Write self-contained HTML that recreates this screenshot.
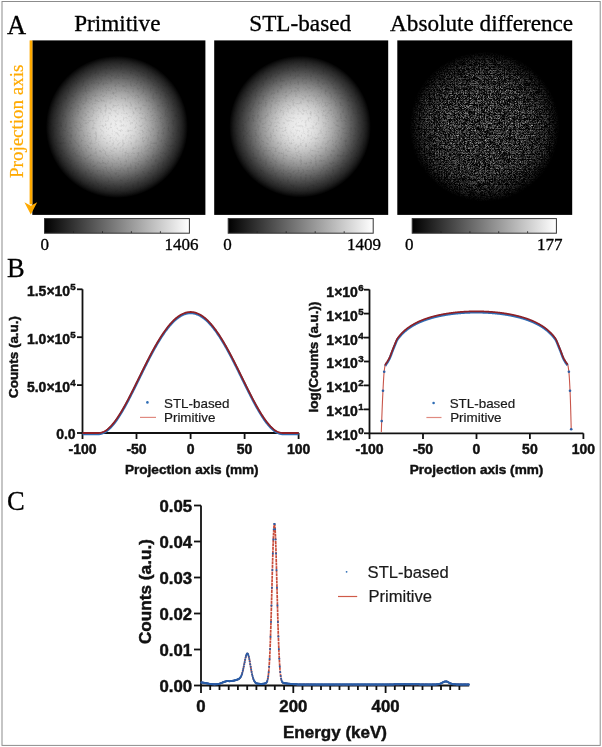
<!DOCTYPE html>
<html><head><meta charset="utf-8"><title>Figure</title>
<style>html,body{margin:0;padding:0;background:#fff;width:602px;height:747px;overflow:hidden}svg{display:block}</style>
</head><body>
<svg width="602" height="747" viewBox="0 0 602 747">
<defs><radialGradient id="sph" cx="0.5" cy="0.5" r="0.5"><stop offset="0.000" stop-color="rgb(238,238,238)"/><stop offset="0.056" stop-color="rgb(236,236,236)"/><stop offset="0.155" stop-color="rgb(230,230,230)"/><stop offset="0.254" stop-color="rgb(216,216,216)"/><stop offset="0.352" stop-color="rgb(196,196,196)"/><stop offset="0.451" stop-color="rgb(172,172,172)"/><stop offset="0.549" stop-color="rgb(146,146,146)"/><stop offset="0.648" stop-color="rgb(116,116,116)"/><stop offset="0.746" stop-color="rgb(86,86,86)"/><stop offset="0.845" stop-color="rgb(56,56,56)"/><stop offset="0.901" stop-color="rgb(40,40,40)"/><stop offset="0.944" stop-color="rgb(25,25,25)"/><stop offset="0.979" stop-color="rgb(10,10,10)"/><stop offset="1.000" stop-color="rgb(0,0,0)"/></radialGradient><radialGradient id="dmask" cx="0.5" cy="0.5" r="0.5"><stop offset="0.000" stop-color="#fff" stop-opacity="1.000"/><stop offset="0.400" stop-color="#fff" stop-opacity="0.950"/><stop offset="0.600" stop-color="#fff" stop-opacity="0.850"/><stop offset="0.750" stop-color="#fff" stop-opacity="0.680"/><stop offset="0.850" stop-color="#fff" stop-opacity="0.480"/><stop offset="0.920" stop-color="#fff" stop-opacity="0.280"/><stop offset="0.970" stop-color="#fff" stop-opacity="0.100"/><stop offset="1.000" stop-color="#fff" stop-opacity="0.000"/></radialGradient><linearGradient id="cbar" x1="0" x2="1" y1="0" y2="0"><stop offset="0" stop-color="#000"/><stop offset="1" stop-color="#fff"/></linearGradient><filter id="noise1" x="0" y="0" width="100%" height="100%" color-interpolation-filters="sRGB"><feTurbulence type="fractalNoise" baseFrequency="0.4" numOctaves="2" seed="3" result="t"/><feColorMatrix in="t" type="matrix" values="0.32 0 0 0 0.84  0.32 0 0 0 0.84  0.32 0 0 0 0.84  0 0 0 0 1" result="g"/><feComposite in="SourceGraphic" in2="g" operator="arithmetic" k1="1" k2="0" k3="0" k4="0"/></filter><filter id="noise2" x="0" y="0" width="100%" height="100%" color-interpolation-filters="sRGB"><feTurbulence type="turbulence" baseFrequency="0.6" numOctaves="2" seed="11" result="t"/><feColorMatrix in="t" type="matrix" values="1.05 0 0 0 -0.09  1.05 0 0 0 -0.09  1.05 0 0 0 -0.09  0 0 0 0 1" result="g0"/><feGaussianBlur in="g0" stdDeviation="0.55" result="g"/><feComposite in="g" in2="SourceGraphic" operator="in"/></filter></defs>
<rect x="0" y="0" width="602" height="747" fill="#fff"/>
<rect x="2" y="1.5" width="598.2" height="743.9" fill="none" stroke="#8c8c8c" stroke-width="1"/>
<text x="7" y="33.6" font-family='"Liberation Serif", "Times New Roman", serif' fill="#000" stroke="#000" stroke-width="0.3" font-size="26.5">A</text>
<g font-family='"Liberation Serif", "Times New Roman", serif' fill="#000" stroke="#000" stroke-width="0.3" font-size="23.2" text-anchor="middle"><text x="117.3" y="30.8">Primitive</text><text x="300.2" y="30.8">STL-based</text><text x="481.6" y="30.8">Absolute difference</text></g>
<rect x="32.3" y="40.4" width="173.1" height="174.5" fill="#000"/>
<circle cx="116.9" cy="126.9" r="71.0" fill="url(#sph)" filter="url(#noise1)"/>
<rect x="214.2" y="40.4" width="174.0" height="174.5" fill="#000"/>
<circle cx="300.1" cy="126.6" r="70.8" fill="url(#sph)" filter="url(#noise1)"/>
<rect x="397.3" y="40.4" width="174.9" height="174.5" fill="#000"/>
<circle cx="484.4" cy="126.7" r="75" fill="url(#dmask)" filter="url(#noise2)"/>
<rect x="29.6" y="40.4" width="2.8" height="164" fill="#ffaa00"/>
<path d="M30.8,214.6 L24.4,202.3 L30.8,205.8 L37.2,202.3 Z" fill="#ffaa00"/>
<text transform="translate(23.2,121.3) rotate(-90)" text-anchor="middle" font-family='"Liberation Serif", "Times New Roman", serif' font-size="19" fill="#ffaa00" stroke="#ffaa00" stroke-width="0.2">Projection axis</text>
<rect x="44.5" y="218.6" width="144.9" height="14.6" fill="url(#cbar)" stroke="#333" stroke-width="1"/>
<line x1="73.5" y1="233" x2="73.5" y2="231.2" stroke="#222" stroke-width="0.8"/>
<line x1="102.5" y1="233" x2="102.5" y2="231.2" stroke="#222" stroke-width="0.8"/>
<line x1="131.4" y1="233" x2="131.4" y2="231.2" stroke="#222" stroke-width="0.8"/>
<line x1="160.4" y1="233" x2="160.4" y2="231.2" stroke="#222" stroke-width="0.8"/>
<text x="40.5" y="250" font-family='"Liberation Serif", "Times New Roman", serif' fill="#000" stroke="#000" stroke-width="0.3" font-size="17">0</text>
<text x="198.6" y="250" text-anchor="end" font-family='"Liberation Serif", "Times New Roman", serif' fill="#000" stroke="#000" stroke-width="0.3" font-size="17">1406</text>
<rect x="228.2" y="218.6" width="145.0" height="14.6" fill="url(#cbar)" stroke="#333" stroke-width="1"/>
<line x1="257.2" y1="233" x2="257.2" y2="231.2" stroke="#222" stroke-width="0.8"/>
<line x1="286.2" y1="233" x2="286.2" y2="231.2" stroke="#222" stroke-width="0.8"/>
<line x1="315.2" y1="233" x2="315.2" y2="231.2" stroke="#222" stroke-width="0.8"/>
<line x1="344.2" y1="233" x2="344.2" y2="231.2" stroke="#222" stroke-width="0.8"/>
<text x="223.3" y="250" font-family='"Liberation Serif", "Times New Roman", serif' fill="#000" stroke="#000" stroke-width="0.3" font-size="17">0</text>
<text x="380.9" y="250" text-anchor="end" font-family='"Liberation Serif", "Times New Roman", serif' fill="#000" stroke="#000" stroke-width="0.3" font-size="17">1409</text>
<rect x="412.2" y="218.6" width="144.2" height="14.6" fill="url(#cbar)" stroke="#333" stroke-width="1"/>
<line x1="441.0" y1="233" x2="441.0" y2="231.2" stroke="#222" stroke-width="0.8"/>
<line x1="469.9" y1="233" x2="469.9" y2="231.2" stroke="#222" stroke-width="0.8"/>
<line x1="498.7" y1="233" x2="498.7" y2="231.2" stroke="#222" stroke-width="0.8"/>
<line x1="527.6" y1="233" x2="527.6" y2="231.2" stroke="#222" stroke-width="0.8"/>
<text x="405.0" y="250" font-family='"Liberation Serif", "Times New Roman", serif' fill="#000" stroke="#000" stroke-width="0.3" font-size="17">0</text>
<text x="562.4" y="250" text-anchor="end" font-family='"Liberation Serif", "Times New Roman", serif' fill="#000" stroke="#000" stroke-width="0.3" font-size="17">177</text>
<text x="7" y="277.2" font-family='"Liberation Serif", "Times New Roman", serif' fill="#000" stroke="#000" stroke-width="0.3" font-size="26.5">B</text>
<path d="M82.5,289.3 V433 H298.6" stroke="#111" stroke-width="1.8" fill="none"/>
<line x1="77" y1="433.0" x2="82.5" y2="433.0" stroke="#111" stroke-width="1.8" fill="none"/>
<line x1="77" y1="385.1" x2="82.5" y2="385.1" stroke="#111" stroke-width="1.8" fill="none"/>
<line x1="77" y1="337.2" x2="82.5" y2="337.2" stroke="#111" stroke-width="1.8" fill="none"/>
<line x1="77" y1="289.3" x2="82.5" y2="289.3" stroke="#111" stroke-width="1.8" fill="none"/>
<line x1="82.5" y1="433" x2="82.5" y2="439" stroke="#111" stroke-width="1.8" fill="none"/>
<line x1="136.5" y1="433" x2="136.5" y2="439" stroke="#111" stroke-width="1.8" fill="none"/>
<line x1="190.6" y1="433" x2="190.6" y2="439" stroke="#111" stroke-width="1.8" fill="none"/>
<line x1="244.6" y1="433" x2="244.6" y2="439" stroke="#111" stroke-width="1.8" fill="none"/>
<line x1="298.6" y1="433" x2="298.6" y2="439" stroke="#111" stroke-width="1.8" fill="none"/>
<text x="75.6" y="439.4" text-anchor="end" font-family='"Liberation Sans", Arial, sans-serif' font-weight="bold" fill="#111" stroke="#111" stroke-width="0.45" font-size="14">0.0</text>
<text x="75.6" y="391.5" text-anchor="end" font-family='"Liberation Sans", Arial, sans-serif' font-weight="bold" fill="#111" stroke="#111" stroke-width="0.45" font-size="14">5.0×10<tspan dy="-6" font-size="9.8">4</tspan></text>
<text x="75.6" y="343.6" text-anchor="end" font-family='"Liberation Sans", Arial, sans-serif' font-weight="bold" fill="#111" stroke="#111" stroke-width="0.45" font-size="14">1.0×10<tspan dy="-6" font-size="9.8">5</tspan></text>
<text x="75.6" y="295.7" text-anchor="end" font-family='"Liberation Sans", Arial, sans-serif' font-weight="bold" fill="#111" stroke="#111" stroke-width="0.45" font-size="14">1.5×10<tspan dy="-6" font-size="9.8">5</tspan></text>
<text x="82.5" y="453.6" text-anchor="middle" font-family='"Liberation Sans", Arial, sans-serif' font-weight="bold" fill="#111" stroke="#111" stroke-width="0.45" font-size="14">-100</text>
<text x="136.5" y="453.6" text-anchor="middle" font-family='"Liberation Sans", Arial, sans-serif' font-weight="bold" fill="#111" stroke="#111" stroke-width="0.45" font-size="14">-50</text>
<text x="190.6" y="453.6" text-anchor="middle" font-family='"Liberation Sans", Arial, sans-serif' font-weight="bold" fill="#111" stroke="#111" stroke-width="0.45" font-size="14">0</text>
<text x="244.6" y="453.6" text-anchor="middle" font-family='"Liberation Sans", Arial, sans-serif' font-weight="bold" fill="#111" stroke="#111" stroke-width="0.45" font-size="14">50</text>
<text x="298.6" y="453.6" text-anchor="middle" font-family='"Liberation Sans", Arial, sans-serif' font-weight="bold" fill="#111" stroke="#111" stroke-width="0.45" font-size="14">100</text>
<text x="191.8" y="474" text-anchor="middle" font-family='"Liberation Sans", Arial, sans-serif' font-weight="bold" fill="#111" stroke="#111" stroke-width="0.45" font-size="13.6">Projection axis (mm)</text>
<text transform="translate(18.3,357) rotate(-90)" text-anchor="middle" font-family='"Liberation Sans", Arial, sans-serif' font-weight="bold" fill="#111" stroke="#111" stroke-width="0.45" font-size="13.4">Counts (a.u.)</text>
<path d="M82.57,434.00 L83.11,434.00 L83.65,434.00 L84.19,434.00 L84.73,434.00 L85.27,434.00 L85.81,434.00 L86.35,434.00 L86.89,434.00 L87.43,434.00 L87.97,434.00 L88.51,434.00 L89.05,434.00 L89.59,434.00 L90.13,434.00 L90.67,434.00 L91.21,434.00 L91.75,434.00 L92.29,434.00 L92.83,434.00 L93.37,434.00 L93.91,434.00 L94.45,434.00 L94.99,434.00 L95.53,434.00 L96.07,434.00 L96.61,434.00 L97.15,434.00 L97.69,434.00 L98.23,434.00 L98.77,433.99 L99.31,433.96 L99.85,433.90 L100.39,433.81 L100.94,433.70 L101.48,433.56 L102.02,433.40 L102.56,433.20 L103.10,432.99 L103.64,432.75 L104.18,432.48 L104.72,432.18 L105.26,431.86 L105.80,431.52 L106.34,431.15 L106.88,430.76 L107.42,430.34 L107.96,429.90 L108.50,429.44 L109.04,428.95 L109.58,428.45 L110.12,427.92 L110.66,427.37 L111.20,426.79 L111.74,426.20 L112.28,425.59 L112.82,424.95 L113.36,424.30 L113.90,423.63 L114.44,422.94 L114.98,422.23 L115.52,421.50 L116.06,420.76 L116.60,420.00 L117.14,419.22 L117.68,418.42 L118.22,417.61 L118.76,416.79 L119.30,415.95 L119.84,415.10 L120.38,414.23 L120.92,413.35 L121.46,412.45 L122.00,411.55 L122.54,410.63 L123.08,409.69 L123.62,408.75 L124.16,407.80 L124.70,406.83 L125.24,405.86 L125.78,404.87 L126.32,403.88 L126.86,402.88 L127.40,401.87 L127.94,400.85 L128.48,399.82 L129.02,398.79 L129.56,397.74 L130.10,396.70 L130.64,395.64 L131.18,394.58 L131.72,393.52 L132.26,392.45 L132.80,391.37 L133.34,390.30 L133.88,389.21 L134.42,388.13 L134.96,387.04 L135.50,385.95 L136.04,384.85 L136.58,383.76 L137.13,382.66 L137.67,381.56 L138.21,380.46 L138.75,379.36 L139.29,378.26 L139.83,377.16 L140.37,376.06 L140.91,374.96 L141.45,373.87 L141.99,372.77 L142.53,371.68 L143.07,370.58 L143.61,369.50 L144.15,368.41 L144.69,367.33 L145.23,366.25 L145.77,365.17 L146.31,364.10 L146.85,363.03 L147.39,361.97 L147.93,360.91 L148.47,359.86 L149.01,358.82 L149.55,357.78 L150.09,356.74 L150.63,355.72 L151.17,354.70 L151.71,353.68 L152.25,352.68 L152.79,351.68 L153.33,350.69 L153.87,349.71 L154.41,348.73 L154.95,347.77 L155.49,346.81 L156.03,345.86 L156.57,344.93 L157.11,344.00 L157.65,343.08 L158.19,342.17 L158.73,341.28 L159.27,340.39 L159.81,339.51 L160.35,338.65 L160.89,337.80 L161.43,336.95 L161.97,336.12 L162.51,335.31 L163.05,334.50 L163.59,333.71 L164.13,332.92 L164.67,332.16 L165.21,331.40 L165.75,330.66 L166.29,329.93 L166.83,329.21 L167.37,328.51 L167.91,327.82 L168.45,327.15 L168.99,326.49 L169.53,325.84 L170.07,325.21 L170.61,324.59 L171.15,323.99 L171.69,323.40 L172.23,322.83 L172.78,322.27 L173.32,321.73 L173.86,321.20 L174.40,320.69 L174.94,320.19 L175.48,319.71 L176.02,319.25 L176.56,318.80 L177.10,318.37 L177.64,317.95 L178.18,317.55 L178.72,317.17 L179.26,316.80 L179.80,316.45 L180.34,316.12 L180.88,315.80 L181.42,315.50 L181.96,315.21 L182.50,314.95 L183.04,314.70 L183.58,314.46 L184.12,314.25 L184.66,314.05 L185.20,313.87 L185.74,313.70 L186.28,313.56 L186.82,313.43 L187.36,313.31 L187.90,313.22 L188.44,313.14 L188.98,313.08 L189.52,313.03 L190.06,313.01 L190.60,313.00 L191.14,313.01 L191.68,313.03 L192.22,313.08 L192.76,313.14 L193.30,313.22 L193.84,313.31 L194.38,313.43 L194.92,313.56 L195.46,313.70 L196.00,313.87 L196.54,314.05 L197.08,314.25 L197.62,314.46 L198.16,314.70 L198.70,314.95 L199.24,315.21 L199.78,315.50 L200.32,315.80 L200.86,316.12 L201.40,316.45 L201.94,316.80 L202.48,317.17 L203.02,317.55 L203.56,317.95 L204.10,318.37 L204.64,318.80 L205.18,319.25 L205.72,319.71 L206.26,320.19 L206.80,320.69 L207.34,321.20 L207.88,321.73 L208.42,322.27 L208.97,322.83 L209.51,323.40 L210.05,323.99 L210.59,324.59 L211.13,325.21 L211.67,325.84 L212.21,326.49 L212.75,327.15 L213.29,327.82 L213.83,328.51 L214.37,329.21 L214.91,329.93 L215.45,330.66 L215.99,331.40 L216.53,332.16 L217.07,332.92 L217.61,333.71 L218.15,334.50 L218.69,335.31 L219.23,336.12 L219.77,336.95 L220.31,337.80 L220.85,338.65 L221.39,339.51 L221.93,340.39 L222.47,341.28 L223.01,342.17 L223.55,343.08 L224.09,344.00 L224.63,344.93 L225.17,345.86 L225.71,346.81 L226.25,347.77 L226.79,348.73 L227.33,349.71 L227.87,350.69 L228.41,351.68 L228.95,352.68 L229.49,353.68 L230.03,354.70 L230.57,355.72 L231.11,356.74 L231.65,357.78 L232.19,358.82 L232.73,359.86 L233.27,360.91 L233.81,361.97 L234.35,363.03 L234.89,364.10 L235.43,365.17 L235.97,366.25 L236.51,367.33 L237.05,368.41 L237.59,369.50 L238.13,370.58 L238.67,371.68 L239.21,372.77 L239.75,373.87 L240.29,374.96 L240.83,376.06 L241.37,377.16 L241.91,378.26 L242.45,379.36 L242.99,380.46 L243.53,381.56 L244.07,382.66 L244.62,383.76 L245.16,384.85 L245.70,385.95 L246.24,387.04 L246.78,388.13 L247.32,389.21 L247.86,390.30 L248.40,391.37 L248.94,392.45 L249.48,393.52 L250.02,394.58 L250.56,395.64 L251.10,396.70 L251.64,397.74 L252.18,398.79 L252.72,399.82 L253.26,400.85 L253.80,401.87 L254.34,402.88 L254.88,403.88 L255.42,404.87 L255.96,405.86 L256.50,406.83 L257.04,407.80 L257.58,408.75 L258.12,409.69 L258.66,410.63 L259.20,411.55 L259.74,412.45 L260.28,413.35 L260.82,414.23 L261.36,415.10 L261.90,415.95 L262.44,416.79 L262.98,417.61 L263.52,418.42 L264.06,419.22 L264.60,420.00 L265.14,420.76 L265.68,421.50 L266.22,422.23 L266.76,422.94 L267.30,423.63 L267.84,424.30 L268.38,424.95 L268.92,425.59 L269.46,426.20 L270.00,426.79 L270.54,427.37 L271.08,427.92 L271.62,428.45 L272.16,428.95 L272.70,429.44 L273.24,429.90 L273.78,430.34 L274.32,430.76 L274.86,431.15 L275.40,431.52 L275.94,431.86 L276.48,432.18 L277.02,432.48 L277.56,432.75 L278.10,432.99 L278.64,433.20 L279.18,433.40 L279.72,433.56 L280.26,433.70 L280.81,433.81 L281.35,433.90 L281.89,433.96 L282.43,433.99 L282.97,434.00 L283.51,434.00 L284.05,434.00 L284.59,434.00 L285.13,434.00 L285.67,434.00 L286.21,434.00 L286.75,434.00 L287.29,434.00 L287.83,434.00 L288.37,434.00 L288.91,434.00 L289.45,434.00 L289.99,434.00 L290.53,434.00 L291.07,434.00 L291.61,434.00 L292.15,434.00 L292.69,434.00 L293.23,434.00 L293.77,434.00 L294.31,434.00 L294.85,434.00 L295.39,434.00 L295.93,434.00 L296.47,434.00 L297.01,434.00 L297.55,434.00 L298.09,434.00 L298.63,434.00" stroke="#2f6db5" stroke-width="2.4" fill="none"/>
<path d="M82.57,433.00 L83.11,433.00 L83.65,433.00 L84.19,433.00 L84.73,433.00 L85.27,433.00 L85.81,433.00 L86.35,433.00 L86.89,433.00 L87.43,433.00 L87.97,433.00 L88.51,433.00 L89.05,433.00 L89.59,433.00 L90.13,433.00 L90.67,433.00 L91.21,433.00 L91.75,433.00 L92.29,433.00 L92.83,433.00 L93.37,433.00 L93.91,433.00 L94.45,433.00 L94.99,433.00 L95.53,433.00 L96.07,433.00 L96.61,433.00 L97.15,433.00 L97.69,433.00 L98.23,433.00 L98.77,432.99 L99.31,432.96 L99.85,432.90 L100.39,432.81 L100.94,432.70 L101.48,432.56 L102.02,432.40 L102.56,432.20 L103.10,431.99 L103.64,431.75 L104.18,431.48 L104.72,431.18 L105.26,430.86 L105.80,430.52 L106.34,430.15 L106.88,429.76 L107.42,429.34 L107.96,428.90 L108.50,428.44 L109.04,427.95 L109.58,427.45 L110.12,426.92 L110.66,426.37 L111.20,425.79 L111.74,425.20 L112.28,424.59 L112.82,423.95 L113.36,423.30 L113.90,422.63 L114.44,421.94 L114.98,421.23 L115.52,420.50 L116.06,419.76 L116.60,419.00 L117.14,418.22 L117.68,417.42 L118.22,416.61 L118.76,415.79 L119.30,414.95 L119.84,414.10 L120.38,413.23 L120.92,412.35 L121.46,411.45 L122.00,410.55 L122.54,409.63 L123.08,408.69 L123.62,407.75 L124.16,406.80 L124.70,405.83 L125.24,404.86 L125.78,403.87 L126.32,402.88 L126.86,401.88 L127.40,400.87 L127.94,399.85 L128.48,398.82 L129.02,397.79 L129.56,396.74 L130.10,395.70 L130.64,394.64 L131.18,393.58 L131.72,392.52 L132.26,391.45 L132.80,390.37 L133.34,389.30 L133.88,388.21 L134.42,387.13 L134.96,386.04 L135.50,384.95 L136.04,383.85 L136.58,382.76 L137.13,381.66 L137.67,380.56 L138.21,379.46 L138.75,378.36 L139.29,377.26 L139.83,376.16 L140.37,375.06 L140.91,373.96 L141.45,372.87 L141.99,371.77 L142.53,370.68 L143.07,369.58 L143.61,368.50 L144.15,367.41 L144.69,366.33 L145.23,365.25 L145.77,364.17 L146.31,363.10 L146.85,362.03 L147.39,360.97 L147.93,359.91 L148.47,358.86 L149.01,357.82 L149.55,356.78 L150.09,355.74 L150.63,354.72 L151.17,353.70 L151.71,352.68 L152.25,351.68 L152.79,350.68 L153.33,349.69 L153.87,348.71 L154.41,347.73 L154.95,346.77 L155.49,345.81 L156.03,344.86 L156.57,343.93 L157.11,343.00 L157.65,342.08 L158.19,341.17 L158.73,340.28 L159.27,339.39 L159.81,338.51 L160.35,337.65 L160.89,336.80 L161.43,335.95 L161.97,335.12 L162.51,334.31 L163.05,333.50 L163.59,332.71 L164.13,331.92 L164.67,331.16 L165.21,330.40 L165.75,329.66 L166.29,328.93 L166.83,328.21 L167.37,327.51 L167.91,326.82 L168.45,326.15 L168.99,325.49 L169.53,324.84 L170.07,324.21 L170.61,323.59 L171.15,322.99 L171.69,322.40 L172.23,321.83 L172.78,321.27 L173.32,320.73 L173.86,320.20 L174.40,319.69 L174.94,319.19 L175.48,318.71 L176.02,318.25 L176.56,317.80 L177.10,317.37 L177.64,316.95 L178.18,316.55 L178.72,316.17 L179.26,315.80 L179.80,315.45 L180.34,315.12 L180.88,314.80 L181.42,314.50 L181.96,314.21 L182.50,313.95 L183.04,313.70 L183.58,313.46 L184.12,313.25 L184.66,313.05 L185.20,312.87 L185.74,312.70 L186.28,312.56 L186.82,312.43 L187.36,312.31 L187.90,312.22 L188.44,312.14 L188.98,312.08 L189.52,312.03 L190.06,312.01 L190.60,312.00 L191.14,312.01 L191.68,312.03 L192.22,312.08 L192.76,312.14 L193.30,312.22 L193.84,312.31 L194.38,312.43 L194.92,312.56 L195.46,312.70 L196.00,312.87 L196.54,313.05 L197.08,313.25 L197.62,313.46 L198.16,313.70 L198.70,313.95 L199.24,314.21 L199.78,314.50 L200.32,314.80 L200.86,315.12 L201.40,315.45 L201.94,315.80 L202.48,316.17 L203.02,316.55 L203.56,316.95 L204.10,317.37 L204.64,317.80 L205.18,318.25 L205.72,318.71 L206.26,319.19 L206.80,319.69 L207.34,320.20 L207.88,320.73 L208.42,321.27 L208.97,321.83 L209.51,322.40 L210.05,322.99 L210.59,323.59 L211.13,324.21 L211.67,324.84 L212.21,325.49 L212.75,326.15 L213.29,326.82 L213.83,327.51 L214.37,328.21 L214.91,328.93 L215.45,329.66 L215.99,330.40 L216.53,331.16 L217.07,331.92 L217.61,332.71 L218.15,333.50 L218.69,334.31 L219.23,335.12 L219.77,335.95 L220.31,336.80 L220.85,337.65 L221.39,338.51 L221.93,339.39 L222.47,340.28 L223.01,341.17 L223.55,342.08 L224.09,343.00 L224.63,343.93 L225.17,344.86 L225.71,345.81 L226.25,346.77 L226.79,347.73 L227.33,348.71 L227.87,349.69 L228.41,350.68 L228.95,351.68 L229.49,352.68 L230.03,353.70 L230.57,354.72 L231.11,355.74 L231.65,356.78 L232.19,357.82 L232.73,358.86 L233.27,359.91 L233.81,360.97 L234.35,362.03 L234.89,363.10 L235.43,364.17 L235.97,365.25 L236.51,366.33 L237.05,367.41 L237.59,368.50 L238.13,369.58 L238.67,370.68 L239.21,371.77 L239.75,372.87 L240.29,373.96 L240.83,375.06 L241.37,376.16 L241.91,377.26 L242.45,378.36 L242.99,379.46 L243.53,380.56 L244.07,381.66 L244.62,382.76 L245.16,383.85 L245.70,384.95 L246.24,386.04 L246.78,387.13 L247.32,388.21 L247.86,389.30 L248.40,390.37 L248.94,391.45 L249.48,392.52 L250.02,393.58 L250.56,394.64 L251.10,395.70 L251.64,396.74 L252.18,397.79 L252.72,398.82 L253.26,399.85 L253.80,400.87 L254.34,401.88 L254.88,402.88 L255.42,403.87 L255.96,404.86 L256.50,405.83 L257.04,406.80 L257.58,407.75 L258.12,408.69 L258.66,409.63 L259.20,410.55 L259.74,411.45 L260.28,412.35 L260.82,413.23 L261.36,414.10 L261.90,414.95 L262.44,415.79 L262.98,416.61 L263.52,417.42 L264.06,418.22 L264.60,419.00 L265.14,419.76 L265.68,420.50 L266.22,421.23 L266.76,421.94 L267.30,422.63 L267.84,423.30 L268.38,423.95 L268.92,424.59 L269.46,425.20 L270.00,425.79 L270.54,426.37 L271.08,426.92 L271.62,427.45 L272.16,427.95 L272.70,428.44 L273.24,428.90 L273.78,429.34 L274.32,429.76 L274.86,430.15 L275.40,430.52 L275.94,430.86 L276.48,431.18 L277.02,431.48 L277.56,431.75 L278.10,431.99 L278.64,432.20 L279.18,432.40 L279.72,432.56 L280.26,432.70 L280.81,432.81 L281.35,432.90 L281.89,432.96 L282.43,432.99 L282.97,433.00 L283.51,433.00 L284.05,433.00 L284.59,433.00 L285.13,433.00 L285.67,433.00 L286.21,433.00 L286.75,433.00 L287.29,433.00 L287.83,433.00 L288.37,433.00 L288.91,433.00 L289.45,433.00 L289.99,433.00 L290.53,433.00 L291.07,433.00 L291.61,433.00 L292.15,433.00 L292.69,433.00 L293.23,433.00 L293.77,433.00 L294.31,433.00 L294.85,433.00 L295.39,433.00 L295.93,433.00 L296.47,433.00 L297.01,433.00 L297.55,433.00 L298.09,433.00 L298.63,433.00" stroke="#8e2026" stroke-width="1.8" fill="none"/>
<circle cx="147.4" cy="402.4" r="1.3" fill="#2f6db5"/>
<text x="164" y="407.7" font-family='"Liberation Sans", Arial, sans-serif' fill="#1a1a1a" stroke="#1a1a1a" stroke-width="0.2" font-size="13.4">STL-based</text>
<line x1="140" y1="417.4" x2="156" y2="417.4" stroke="#e08a80" stroke-width="1.2"/>
<text x="164" y="422" font-family='"Liberation Sans", Arial, sans-serif' fill="#1a1a1a" stroke="#1a1a1a" stroke-width="0.2" font-size="13.4">Primitive</text>
<path d="M369.5,289.6 V433.3 H583.4" stroke="#111" stroke-width="1.8" fill="none"/>
<line x1="364" y1="433.3" x2="369.5" y2="433.3" stroke="#111" stroke-width="1.8" fill="none"/>
<line x1="364" y1="409.4" x2="369.5" y2="409.4" stroke="#111" stroke-width="1.8" fill="none"/>
<line x1="364" y1="385.4" x2="369.5" y2="385.4" stroke="#111" stroke-width="1.8" fill="none"/>
<line x1="364" y1="361.5" x2="369.5" y2="361.5" stroke="#111" stroke-width="1.8" fill="none"/>
<line x1="364" y1="337.6" x2="369.5" y2="337.6" stroke="#111" stroke-width="1.8" fill="none"/>
<line x1="364" y1="313.6" x2="369.5" y2="313.6" stroke="#111" stroke-width="1.8" fill="none"/>
<line x1="364" y1="289.7" x2="369.5" y2="289.7" stroke="#111" stroke-width="1.8" fill="none"/>
<line x1="369.5" y1="433.3" x2="369.5" y2="439" stroke="#111" stroke-width="1.8" fill="none"/>
<line x1="423.0" y1="433.3" x2="423.0" y2="439" stroke="#111" stroke-width="1.8" fill="none"/>
<line x1="476.5" y1="433.3" x2="476.5" y2="439" stroke="#111" stroke-width="1.8" fill="none"/>
<line x1="529.9" y1="433.3" x2="529.9" y2="439" stroke="#111" stroke-width="1.8" fill="none"/>
<line x1="583.4" y1="433.3" x2="583.4" y2="439" stroke="#111" stroke-width="1.8" fill="none"/>
<text x="357.9" y="440.2" text-anchor="end" font-family='"Liberation Sans", Arial, sans-serif' font-weight="bold" fill="#111" stroke="#111" stroke-width="0.45" font-size="14">1×10</text>
<text x="358.3" y="434.2" font-family='"Liberation Sans", Arial, sans-serif' font-weight="bold" fill="#111" stroke="#111" stroke-width="0.45" font-size="9.8">0</text>
<text x="357.9" y="416.3" text-anchor="end" font-family='"Liberation Sans", Arial, sans-serif' font-weight="bold" fill="#111" stroke="#111" stroke-width="0.45" font-size="14">1×10</text>
<text x="358.3" y="410.3" font-family='"Liberation Sans", Arial, sans-serif' font-weight="bold" fill="#111" stroke="#111" stroke-width="0.45" font-size="9.8">1</text>
<text x="357.9" y="392.3" text-anchor="end" font-family='"Liberation Sans", Arial, sans-serif' font-weight="bold" fill="#111" stroke="#111" stroke-width="0.45" font-size="14">1×10</text>
<text x="358.3" y="386.3" font-family='"Liberation Sans", Arial, sans-serif' font-weight="bold" fill="#111" stroke="#111" stroke-width="0.45" font-size="9.8">2</text>
<text x="357.9" y="368.4" text-anchor="end" font-family='"Liberation Sans", Arial, sans-serif' font-weight="bold" fill="#111" stroke="#111" stroke-width="0.45" font-size="14">1×10</text>
<text x="358.3" y="362.4" font-family='"Liberation Sans", Arial, sans-serif' font-weight="bold" fill="#111" stroke="#111" stroke-width="0.45" font-size="9.8">3</text>
<text x="357.9" y="344.5" text-anchor="end" font-family='"Liberation Sans", Arial, sans-serif' font-weight="bold" fill="#111" stroke="#111" stroke-width="0.45" font-size="14">1×10</text>
<text x="358.3" y="338.5" font-family='"Liberation Sans", Arial, sans-serif' font-weight="bold" fill="#111" stroke="#111" stroke-width="0.45" font-size="9.8">4</text>
<text x="357.9" y="320.5" text-anchor="end" font-family='"Liberation Sans", Arial, sans-serif' font-weight="bold" fill="#111" stroke="#111" stroke-width="0.45" font-size="14">1×10</text>
<text x="358.3" y="314.5" font-family='"Liberation Sans", Arial, sans-serif' font-weight="bold" fill="#111" stroke="#111" stroke-width="0.45" font-size="9.8">5</text>
<text x="357.9" y="296.6" text-anchor="end" font-family='"Liberation Sans", Arial, sans-serif' font-weight="bold" fill="#111" stroke="#111" stroke-width="0.45" font-size="14">1×10</text>
<text x="358.3" y="290.6" font-family='"Liberation Sans", Arial, sans-serif' font-weight="bold" fill="#111" stroke="#111" stroke-width="0.45" font-size="9.8">6</text>
<text x="369.5" y="453.6" text-anchor="middle" font-family='"Liberation Sans", Arial, sans-serif' font-weight="bold" fill="#111" stroke="#111" stroke-width="0.45" font-size="14">-100</text>
<text x="423.0" y="453.6" text-anchor="middle" font-family='"Liberation Sans", Arial, sans-serif' font-weight="bold" fill="#111" stroke="#111" stroke-width="0.45" font-size="14">-50</text>
<text x="476.5" y="453.6" text-anchor="middle" font-family='"Liberation Sans", Arial, sans-serif' font-weight="bold" fill="#111" stroke="#111" stroke-width="0.45" font-size="14">0</text>
<text x="529.9" y="453.6" text-anchor="middle" font-family='"Liberation Sans", Arial, sans-serif' font-weight="bold" fill="#111" stroke="#111" stroke-width="0.45" font-size="14">50</text>
<text x="583.4" y="453.6" text-anchor="middle" font-family='"Liberation Sans", Arial, sans-serif' font-weight="bold" fill="#111" stroke="#111" stroke-width="0.45" font-size="14">100</text>
<text x="476.5" y="474" text-anchor="middle" font-family='"Liberation Sans", Arial, sans-serif' font-weight="bold" fill="#111" stroke="#111" stroke-width="0.45" font-size="13.6">Projection axis (mm)</text>
<text transform="translate(317.8,357) rotate(-90)" text-anchor="middle" font-family='"Liberation Sans", Arial, sans-serif' font-weight="bold" fill="#111" stroke="#111" stroke-width="0.45" font-size="13.4">log(Counts (a.u.))</text>
<path d="M385.22,366.10 L385.49,365.42 L385.76,364.86 L386.02,364.40 L386.29,364.01 L386.56,363.65 L386.83,363.31 L387.09,362.93 L387.36,362.51 L387.63,362.06 L387.90,361.61 L388.16,361.16 L388.43,360.71 L388.70,360.24 L388.96,359.76 L389.23,359.24 L389.50,358.70 L389.77,358.11 L390.03,357.49 L390.30,356.83 L390.57,356.15 L390.84,355.46 L391.10,354.75 L391.37,354.03 L391.64,353.31 L391.91,352.59 L392.17,351.88 L392.44,351.19 L392.71,350.52 L392.98,349.85 L393.24,349.17 L393.51,348.51 L393.78,347.84 L394.05,347.18 L394.31,346.53 L394.58,345.89 L394.85,345.25 L395.11,344.59 L395.38,343.93 L395.65,343.27 L395.92,342.61 L396.18,341.98 L396.45,341.37 L396.72,340.79 L396.99,340.26 L397.25,339.78 L397.52,339.36 L397.79,338.98 L398.06,338.63 L398.32,338.29 L398.59,337.94 L398.86,337.60 L399.13,337.26 L399.39,336.93 L399.66,336.61 L399.93,336.29 L400.19,335.98 L400.46,335.67 L400.73,335.37 L401.00,335.08 L401.26,334.79 L401.53,334.50 L401.80,334.22 L402.07,333.94 L402.33,333.67 L402.60,333.41 L402.87,333.14 L403.14,332.89 L403.40,332.63 L403.67,332.38 L403.94,332.14 L404.21,331.89 L404.47,331.66 L404.74,331.42 L405.01,331.19 L405.27,330.96 L405.54,330.74 L405.81,330.51 L406.08,330.30 L406.34,330.08 L406.61,329.87 L406.88,329.66 L407.15,329.45 L407.41,329.25 L407.68,329.05 L407.95,328.85 L408.22,328.65 L408.48,328.46 L408.75,328.27 L409.02,328.08 L409.29,327.90 L409.55,327.71 L409.82,327.53 L410.09,327.35 L410.35,327.18 L410.62,327.00 L410.89,326.83 L411.16,326.66 L411.42,326.49 L411.69,326.33 L411.96,326.16 L412.23,326.00 L412.49,325.84 L412.76,325.68 L413.03,325.53 L413.30,325.37 L413.56,325.22 L413.83,325.07 L414.10,324.92 L414.37,324.77 L414.63,324.63 L414.90,324.48 L415.17,324.34 L415.44,324.20 L415.70,324.06 L415.97,323.92 L416.24,323.78 L416.50,323.65 L416.77,323.52 L417.04,323.38 L417.31,323.25 L417.57,323.12 L417.84,323.00 L418.11,322.87 L418.38,322.74 L418.64,322.62 L418.91,322.50 L419.18,322.38 L419.45,322.26 L419.71,322.14 L419.98,322.02 L420.25,321.90 L420.52,321.79 L420.78,321.67 L421.05,321.56 L421.32,321.45 L421.58,321.34 L421.85,321.23 L422.12,321.12 L422.39,321.02 L422.65,320.91 L422.92,320.80 L423.19,320.70 L423.46,320.60 L423.72,320.50 L423.99,320.39 L424.26,320.29 L424.53,320.20 L424.79,320.10 L425.06,320.00 L425.33,319.90 L425.60,319.81 L425.86,319.72 L426.13,319.62 L426.40,319.53 L426.66,319.44 L426.93,319.35 L427.20,319.26 L427.47,319.17 L427.73,319.08 L428.00,318.99 L428.27,318.91 L428.54,318.82 L428.80,318.74 L429.07,318.65 L429.34,318.57 L429.61,318.49 L429.87,318.41 L430.14,318.33 L430.41,318.25 L430.68,318.17 L430.94,318.09 L431.21,318.01 L431.48,317.93 L431.74,317.86 L432.01,317.78 L432.28,317.71 L432.55,317.63 L432.81,317.56 L433.08,317.49 L433.35,317.42 L433.62,317.35 L433.88,317.28 L434.15,317.21 L434.42,317.14 L434.69,317.07 L434.95,317.00 L435.22,316.93 L435.49,316.87 L435.76,316.80 L436.02,316.74 L436.29,316.67 L436.56,316.61 L436.83,316.54 L437.09,316.48 L437.36,316.42 L437.63,316.36 L437.89,316.30 L438.16,316.24 L438.43,316.18 L438.70,316.12 L438.96,316.06 L439.23,316.00 L439.50,315.94 L439.77,315.89 L440.03,315.83 L440.30,315.77 L440.57,315.72 L440.84,315.67 L441.10,315.61 L441.37,315.56 L441.64,315.50 L441.91,315.45 L442.17,315.40 L442.44,315.35 L442.71,315.30 L442.97,315.25 L443.24,315.20 L443.51,315.15 L443.78,315.10 L444.04,315.05 L444.31,315.00 L444.58,314.96 L444.85,314.91 L445.11,314.86 L445.38,314.82 L445.65,314.77 L445.92,314.73 L446.18,314.68 L446.45,314.64 L446.72,314.60 L446.99,314.55 L447.25,314.51 L447.52,314.47 L447.79,314.43 L448.05,314.39 L448.32,314.35 L448.59,314.31 L448.86,314.27 L449.12,314.23 L449.39,314.19 L449.66,314.15 L449.93,314.11 L450.19,314.08 L450.46,314.04 L450.73,314.00 L451.00,313.97 L451.26,313.93 L451.53,313.90 L451.80,313.86 L452.07,313.83 L452.33,313.79 L452.60,313.76 L452.87,313.73 L453.13,313.69 L453.40,313.66 L453.67,313.63 L453.94,313.60 L454.20,313.57 L454.47,313.54 L454.74,313.51 L455.01,313.48 L455.27,313.45 L455.54,313.42 L455.81,313.39 L456.08,313.36 L456.34,313.34 L456.61,313.31 L456.88,313.28 L457.15,313.26 L457.41,313.23 L457.68,313.20 L457.95,313.18 L458.22,313.15 L458.48,313.13 L458.75,313.11 L459.02,313.08 L459.28,313.06 L459.55,313.04 L459.82,313.01 L460.09,312.99 L460.35,312.97 L460.62,312.95 L460.89,312.93 L461.16,312.91 L461.42,312.89 L461.69,312.87 L461.96,312.85 L462.23,312.83 L462.49,312.81 L462.76,312.79 L463.03,312.77 L463.30,312.76 L463.56,312.74 L463.83,312.72 L464.10,312.70 L464.36,312.69 L464.63,312.67 L464.90,312.66 L465.17,312.64 L465.43,312.63 L465.70,312.61 L465.97,312.60 L466.24,312.59 L466.50,312.57 L466.77,312.56 L467.04,312.55 L467.31,312.54 L467.57,312.52 L467.84,312.51 L468.11,312.50 L468.38,312.49 L468.64,312.48 L468.91,312.47 L469.18,312.46 L469.44,312.45 L469.71,312.44 L469.98,312.43 L470.25,312.42 L470.51,312.42 L470.78,312.41 L471.05,312.40 L471.32,312.40 L471.58,312.39 L471.85,312.38 L472.12,312.38 L472.39,312.37 L472.65,312.37 L472.92,312.36 L473.19,312.36 L473.46,312.35 L473.72,312.35 L473.99,312.35 L474.26,312.34 L474.52,312.34 L474.79,312.34 L475.06,312.34 L475.33,312.33 L475.59,312.33 L475.86,312.33 L476.13,312.33 L476.40,312.33 L476.66,312.33 L476.93,312.33 L477.20,312.33 L477.47,312.33 L477.73,312.33 L478.00,312.34 L478.27,312.34 L478.54,312.34 L478.80,312.34 L479.07,312.35 L479.34,312.35 L479.61,312.36 L479.87,312.36 L480.14,312.36 L480.41,312.37 L480.67,312.37 L480.94,312.38 L481.21,312.39 L481.48,312.39 L481.74,312.40 L482.01,312.41 L482.28,312.41 L482.55,312.42 L482.81,312.43 L483.08,312.44 L483.35,312.45 L483.62,312.46 L483.88,312.47 L484.15,312.48 L484.42,312.49 L484.69,312.50 L484.95,312.51 L485.22,312.52 L485.49,312.53 L485.75,312.54 L486.02,312.55 L486.29,312.57 L486.56,312.58 L486.82,312.59 L487.09,312.61 L487.36,312.62 L487.63,312.64 L487.89,312.65 L488.16,312.67 L488.43,312.68 L488.70,312.70 L488.96,312.71 L489.23,312.73 L489.50,312.75 L489.77,312.77 L490.03,312.78 L490.30,312.80 L490.57,312.82 L490.83,312.84 L491.10,312.86 L491.37,312.88 L491.64,312.90 L491.90,312.92 L492.17,312.94 L492.44,312.96 L492.71,312.98 L492.97,313.00 L493.24,313.03 L493.51,313.05 L493.78,313.07 L494.04,313.10 L494.31,313.12 L494.58,313.14 L494.85,313.17 L495.11,313.19 L495.38,313.22 L495.65,313.25 L495.91,313.27 L496.18,313.30 L496.45,313.33 L496.72,313.35 L496.98,313.38 L497.25,313.41 L497.52,313.44 L497.79,313.47 L498.05,313.50 L498.32,313.53 L498.59,313.56 L498.86,313.59 L499.12,313.62 L499.39,313.65 L499.66,313.68 L499.93,313.71 L500.19,313.75 L500.46,313.78 L500.73,313.81 L501.00,313.85 L501.26,313.88 L501.53,313.92 L501.80,313.95 L502.06,313.99 L502.33,314.03 L502.60,314.06 L502.87,314.10 L503.13,314.14 L503.40,314.17 L503.67,314.21 L503.94,314.25 L504.20,314.29 L504.47,314.33 L504.74,314.37 L505.01,314.41 L505.27,314.45 L505.54,314.50 L505.81,314.54 L506.08,314.58 L506.34,314.62 L506.61,314.67 L506.88,314.71 L507.14,314.76 L507.41,314.80 L507.68,314.85 L507.95,314.89 L508.21,314.94 L508.48,314.99 L508.75,315.03 L509.02,315.08 L509.28,315.13 L509.55,315.18 L509.82,315.23 L510.09,315.28 L510.35,315.33 L510.62,315.38 L510.89,315.43 L511.16,315.48 L511.42,315.54 L511.69,315.59 L511.96,315.64 L512.22,315.70 L512.49,315.75 L512.76,315.81 L513.03,315.86 L513.29,315.92 L513.56,315.98 L513.83,316.04 L514.10,316.09 L514.36,316.15 L514.63,316.21 L514.90,316.27 L515.17,316.33 L515.43,316.39 L515.70,316.46 L515.97,316.52 L516.24,316.58 L516.50,316.65 L516.77,316.71 L517.04,316.77 L517.30,316.84 L517.57,316.91 L517.84,316.97 L518.11,317.04 L518.37,317.11 L518.64,317.18 L518.91,317.25 L519.18,317.32 L519.44,317.39 L519.71,317.46 L519.98,317.53 L520.25,317.61 L520.51,317.68 L520.78,317.75 L521.05,317.83 L521.32,317.90 L521.58,317.98 L521.85,318.06 L522.12,318.14 L522.39,318.21 L522.65,318.29 L522.92,318.37 L523.19,318.46 L523.45,318.54 L523.72,318.62 L523.99,318.70 L524.26,318.79 L524.52,318.87 L524.79,318.96 L525.06,319.05 L525.33,319.13 L525.59,319.22 L525.86,319.31 L526.13,319.40 L526.40,319.49 L526.66,319.58 L526.93,319.68 L527.20,319.77 L527.47,319.87 L527.73,319.96 L528.00,320.06 L528.27,320.16 L528.53,320.25 L528.80,320.35 L529.07,320.45 L529.34,320.56 L529.60,320.66 L529.87,320.76 L530.14,320.87 L530.41,320.97 L530.67,321.08 L530.94,321.19 L531.21,321.30 L531.48,321.41 L531.74,321.52 L532.01,321.63 L532.28,321.74 L532.55,321.86 L532.81,321.97 L533.08,322.09 L533.35,322.21 L533.61,322.33 L533.88,322.45 L534.15,322.57 L534.42,322.69 L534.68,322.82 L534.95,322.94 L535.22,323.07 L535.49,323.20 L535.75,323.33 L536.02,323.46 L536.29,323.60 L536.56,323.73 L536.82,323.87 L537.09,324.00 L537.36,324.14 L537.63,324.28 L537.89,324.42 L538.16,324.57 L538.43,324.71 L538.69,324.86 L538.96,325.01 L539.23,325.16 L539.50,325.31 L539.76,325.46 L540.03,325.62 L540.30,325.78 L540.57,325.94 L540.83,326.10 L541.10,326.26 L541.37,326.43 L541.64,326.59 L541.90,326.76 L542.17,326.93 L542.44,327.11 L542.71,327.28 L542.97,327.46 L543.24,327.64 L543.51,327.82 L543.78,328.01 L544.04,328.19 L544.31,328.38 L544.58,328.58 L544.84,328.77 L545.11,328.97 L545.38,329.17 L545.65,329.37 L545.91,329.58 L546.18,329.78 L546.45,330.00 L546.72,330.21 L546.98,330.43 L547.25,330.65 L547.52,330.87 L547.79,331.10 L548.05,331.33 L548.32,331.56 L548.59,331.80 L548.86,332.04 L549.12,332.28 L549.39,332.53 L549.66,332.78 L549.92,333.04 L550.19,333.30 L550.46,333.57 L550.73,333.84 L550.99,334.11 L551.26,334.39 L551.53,334.67 L551.80,334.96 L552.06,335.25 L552.33,335.55 L552.60,335.85 L552.87,336.16 L553.13,336.48 L553.40,336.80 L553.67,337.13 L553.94,337.46 L554.20,337.80 L554.47,338.15 L554.74,338.50 L555.00,338.84 L555.27,339.20 L555.54,339.60 L555.81,340.06 L556.07,340.58 L556.34,341.13 L556.61,341.73 L556.88,342.36 L557.14,343.00 L557.41,343.66 L557.68,344.33 L557.95,344.98 L558.21,345.63 L558.48,346.27 L558.75,346.92 L559.02,347.58 L559.28,348.24 L559.55,348.91 L559.82,349.58 L560.08,350.25 L560.35,350.92 L560.62,351.60 L560.89,352.30 L561.15,353.02 L561.42,353.74 L561.69,354.46 L561.96,355.17 L562.22,355.88 L562.49,356.56 L562.76,357.23 L563.03,357.87 L563.29,358.47 L563.56,359.03 L563.83,359.56 L564.10,360.06 L564.36,360.53 L564.63,360.99 L564.90,361.44 L565.17,361.89 L565.43,362.33 L565.70,362.77 L565.97,363.14 L566.23,363.48 L566.50,363.80 L566.77,364.15 L567.04,364.54 L567.30,365.00 L567.57,365.56" stroke="#2f6db5" stroke-width="2.4" fill="none"/>
<path d="M385.22,365.10 L385.49,364.42 L385.76,363.86 L386.02,363.40 L386.29,363.01 L386.56,362.65 L386.83,362.31 L387.09,361.93 L387.36,361.51 L387.63,361.06 L387.90,360.61 L388.16,360.16 L388.43,359.71 L388.70,359.24 L388.96,358.76 L389.23,358.24 L389.50,357.70 L389.77,357.11 L390.03,356.49 L390.30,355.83 L390.57,355.15 L390.84,354.46 L391.10,353.75 L391.37,353.03 L391.64,352.31 L391.91,351.59 L392.17,350.88 L392.44,350.19 L392.71,349.52 L392.98,348.85 L393.24,348.17 L393.51,347.51 L393.78,346.84 L394.05,346.18 L394.31,345.53 L394.58,344.89 L394.85,344.25 L395.11,343.59 L395.38,342.93 L395.65,342.27 L395.92,341.61 L396.18,340.98 L396.45,340.37 L396.72,339.79 L396.99,339.26 L397.25,338.78 L397.52,338.36 L397.79,337.98 L398.06,337.63 L398.32,337.29 L398.59,336.94 L398.86,336.60 L399.13,336.26 L399.39,335.93 L399.66,335.61 L399.93,335.29 L400.19,334.98 L400.46,334.67 L400.73,334.37 L401.00,334.08 L401.26,333.79 L401.53,333.50 L401.80,333.22 L402.07,332.94 L402.33,332.67 L402.60,332.41 L402.87,332.14 L403.14,331.89 L403.40,331.63 L403.67,331.38 L403.94,331.14 L404.21,330.89 L404.47,330.66 L404.74,330.42 L405.01,330.19 L405.27,329.96 L405.54,329.74 L405.81,329.51 L406.08,329.30 L406.34,329.08 L406.61,328.87 L406.88,328.66 L407.15,328.45 L407.41,328.25 L407.68,328.05 L407.95,327.85 L408.22,327.65 L408.48,327.46 L408.75,327.27 L409.02,327.08 L409.29,326.90 L409.55,326.71 L409.82,326.53 L410.09,326.35 L410.35,326.18 L410.62,326.00 L410.89,325.83 L411.16,325.66 L411.42,325.49 L411.69,325.33 L411.96,325.16 L412.23,325.00 L412.49,324.84 L412.76,324.68 L413.03,324.53 L413.30,324.37 L413.56,324.22 L413.83,324.07 L414.10,323.92 L414.37,323.77 L414.63,323.63 L414.90,323.48 L415.17,323.34 L415.44,323.20 L415.70,323.06 L415.97,322.92 L416.24,322.78 L416.50,322.65 L416.77,322.52 L417.04,322.38 L417.31,322.25 L417.57,322.12 L417.84,322.00 L418.11,321.87 L418.38,321.74 L418.64,321.62 L418.91,321.50 L419.18,321.38 L419.45,321.26 L419.71,321.14 L419.98,321.02 L420.25,320.90 L420.52,320.79 L420.78,320.67 L421.05,320.56 L421.32,320.45 L421.58,320.34 L421.85,320.23 L422.12,320.12 L422.39,320.02 L422.65,319.91 L422.92,319.80 L423.19,319.70 L423.46,319.60 L423.72,319.50 L423.99,319.39 L424.26,319.29 L424.53,319.20 L424.79,319.10 L425.06,319.00 L425.33,318.90 L425.60,318.81 L425.86,318.72 L426.13,318.62 L426.40,318.53 L426.66,318.44 L426.93,318.35 L427.20,318.26 L427.47,318.17 L427.73,318.08 L428.00,317.99 L428.27,317.91 L428.54,317.82 L428.80,317.74 L429.07,317.65 L429.34,317.57 L429.61,317.49 L429.87,317.41 L430.14,317.33 L430.41,317.25 L430.68,317.17 L430.94,317.09 L431.21,317.01 L431.48,316.93 L431.74,316.86 L432.01,316.78 L432.28,316.71 L432.55,316.63 L432.81,316.56 L433.08,316.49 L433.35,316.42 L433.62,316.35 L433.88,316.28 L434.15,316.21 L434.42,316.14 L434.69,316.07 L434.95,316.00 L435.22,315.93 L435.49,315.87 L435.76,315.80 L436.02,315.74 L436.29,315.67 L436.56,315.61 L436.83,315.54 L437.09,315.48 L437.36,315.42 L437.63,315.36 L437.89,315.30 L438.16,315.24 L438.43,315.18 L438.70,315.12 L438.96,315.06 L439.23,315.00 L439.50,314.94 L439.77,314.89 L440.03,314.83 L440.30,314.77 L440.57,314.72 L440.84,314.67 L441.10,314.61 L441.37,314.56 L441.64,314.50 L441.91,314.45 L442.17,314.40 L442.44,314.35 L442.71,314.30 L442.97,314.25 L443.24,314.20 L443.51,314.15 L443.78,314.10 L444.04,314.05 L444.31,314.00 L444.58,313.96 L444.85,313.91 L445.11,313.86 L445.38,313.82 L445.65,313.77 L445.92,313.73 L446.18,313.68 L446.45,313.64 L446.72,313.60 L446.99,313.55 L447.25,313.51 L447.52,313.47 L447.79,313.43 L448.05,313.39 L448.32,313.35 L448.59,313.31 L448.86,313.27 L449.12,313.23 L449.39,313.19 L449.66,313.15 L449.93,313.11 L450.19,313.08 L450.46,313.04 L450.73,313.00 L451.00,312.97 L451.26,312.93 L451.53,312.90 L451.80,312.86 L452.07,312.83 L452.33,312.79 L452.60,312.76 L452.87,312.73 L453.13,312.69 L453.40,312.66 L453.67,312.63 L453.94,312.60 L454.20,312.57 L454.47,312.54 L454.74,312.51 L455.01,312.48 L455.27,312.45 L455.54,312.42 L455.81,312.39 L456.08,312.36 L456.34,312.34 L456.61,312.31 L456.88,312.28 L457.15,312.26 L457.41,312.23 L457.68,312.20 L457.95,312.18 L458.22,312.15 L458.48,312.13 L458.75,312.11 L459.02,312.08 L459.28,312.06 L459.55,312.04 L459.82,312.01 L460.09,311.99 L460.35,311.97 L460.62,311.95 L460.89,311.93 L461.16,311.91 L461.42,311.89 L461.69,311.87 L461.96,311.85 L462.23,311.83 L462.49,311.81 L462.76,311.79 L463.03,311.77 L463.30,311.76 L463.56,311.74 L463.83,311.72 L464.10,311.70 L464.36,311.69 L464.63,311.67 L464.90,311.66 L465.17,311.64 L465.43,311.63 L465.70,311.61 L465.97,311.60 L466.24,311.59 L466.50,311.57 L466.77,311.56 L467.04,311.55 L467.31,311.54 L467.57,311.52 L467.84,311.51 L468.11,311.50 L468.38,311.49 L468.64,311.48 L468.91,311.47 L469.18,311.46 L469.44,311.45 L469.71,311.44 L469.98,311.43 L470.25,311.42 L470.51,311.42 L470.78,311.41 L471.05,311.40 L471.32,311.40 L471.58,311.39 L471.85,311.38 L472.12,311.38 L472.39,311.37 L472.65,311.37 L472.92,311.36 L473.19,311.36 L473.46,311.35 L473.72,311.35 L473.99,311.35 L474.26,311.34 L474.52,311.34 L474.79,311.34 L475.06,311.34 L475.33,311.33 L475.59,311.33 L475.86,311.33 L476.13,311.33 L476.40,311.33 L476.66,311.33 L476.93,311.33 L477.20,311.33 L477.47,311.33 L477.73,311.33 L478.00,311.34 L478.27,311.34 L478.54,311.34 L478.80,311.34 L479.07,311.35 L479.34,311.35 L479.61,311.36 L479.87,311.36 L480.14,311.36 L480.41,311.37 L480.67,311.37 L480.94,311.38 L481.21,311.39 L481.48,311.39 L481.74,311.40 L482.01,311.41 L482.28,311.41 L482.55,311.42 L482.81,311.43 L483.08,311.44 L483.35,311.45 L483.62,311.46 L483.88,311.47 L484.15,311.48 L484.42,311.49 L484.69,311.50 L484.95,311.51 L485.22,311.52 L485.49,311.53 L485.75,311.54 L486.02,311.55 L486.29,311.57 L486.56,311.58 L486.82,311.59 L487.09,311.61 L487.36,311.62 L487.63,311.64 L487.89,311.65 L488.16,311.67 L488.43,311.68 L488.70,311.70 L488.96,311.71 L489.23,311.73 L489.50,311.75 L489.77,311.77 L490.03,311.78 L490.30,311.80 L490.57,311.82 L490.83,311.84 L491.10,311.86 L491.37,311.88 L491.64,311.90 L491.90,311.92 L492.17,311.94 L492.44,311.96 L492.71,311.98 L492.97,312.00 L493.24,312.03 L493.51,312.05 L493.78,312.07 L494.04,312.10 L494.31,312.12 L494.58,312.14 L494.85,312.17 L495.11,312.19 L495.38,312.22 L495.65,312.25 L495.91,312.27 L496.18,312.30 L496.45,312.33 L496.72,312.35 L496.98,312.38 L497.25,312.41 L497.52,312.44 L497.79,312.47 L498.05,312.50 L498.32,312.53 L498.59,312.56 L498.86,312.59 L499.12,312.62 L499.39,312.65 L499.66,312.68 L499.93,312.71 L500.19,312.75 L500.46,312.78 L500.73,312.81 L501.00,312.85 L501.26,312.88 L501.53,312.92 L501.80,312.95 L502.06,312.99 L502.33,313.03 L502.60,313.06 L502.87,313.10 L503.13,313.14 L503.40,313.17 L503.67,313.21 L503.94,313.25 L504.20,313.29 L504.47,313.33 L504.74,313.37 L505.01,313.41 L505.27,313.45 L505.54,313.50 L505.81,313.54 L506.08,313.58 L506.34,313.62 L506.61,313.67 L506.88,313.71 L507.14,313.76 L507.41,313.80 L507.68,313.85 L507.95,313.89 L508.21,313.94 L508.48,313.99 L508.75,314.03 L509.02,314.08 L509.28,314.13 L509.55,314.18 L509.82,314.23 L510.09,314.28 L510.35,314.33 L510.62,314.38 L510.89,314.43 L511.16,314.48 L511.42,314.54 L511.69,314.59 L511.96,314.64 L512.22,314.70 L512.49,314.75 L512.76,314.81 L513.03,314.86 L513.29,314.92 L513.56,314.98 L513.83,315.04 L514.10,315.09 L514.36,315.15 L514.63,315.21 L514.90,315.27 L515.17,315.33 L515.43,315.39 L515.70,315.46 L515.97,315.52 L516.24,315.58 L516.50,315.65 L516.77,315.71 L517.04,315.77 L517.30,315.84 L517.57,315.91 L517.84,315.97 L518.11,316.04 L518.37,316.11 L518.64,316.18 L518.91,316.25 L519.18,316.32 L519.44,316.39 L519.71,316.46 L519.98,316.53 L520.25,316.61 L520.51,316.68 L520.78,316.75 L521.05,316.83 L521.32,316.90 L521.58,316.98 L521.85,317.06 L522.12,317.14 L522.39,317.21 L522.65,317.29 L522.92,317.37 L523.19,317.46 L523.45,317.54 L523.72,317.62 L523.99,317.70 L524.26,317.79 L524.52,317.87 L524.79,317.96 L525.06,318.05 L525.33,318.13 L525.59,318.22 L525.86,318.31 L526.13,318.40 L526.40,318.49 L526.66,318.58 L526.93,318.68 L527.20,318.77 L527.47,318.87 L527.73,318.96 L528.00,319.06 L528.27,319.16 L528.53,319.25 L528.80,319.35 L529.07,319.45 L529.34,319.56 L529.60,319.66 L529.87,319.76 L530.14,319.87 L530.41,319.97 L530.67,320.08 L530.94,320.19 L531.21,320.30 L531.48,320.41 L531.74,320.52 L532.01,320.63 L532.28,320.74 L532.55,320.86 L532.81,320.97 L533.08,321.09 L533.35,321.21 L533.61,321.33 L533.88,321.45 L534.15,321.57 L534.42,321.69 L534.68,321.82 L534.95,321.94 L535.22,322.07 L535.49,322.20 L535.75,322.33 L536.02,322.46 L536.29,322.60 L536.56,322.73 L536.82,322.87 L537.09,323.00 L537.36,323.14 L537.63,323.28 L537.89,323.42 L538.16,323.57 L538.43,323.71 L538.69,323.86 L538.96,324.01 L539.23,324.16 L539.50,324.31 L539.76,324.46 L540.03,324.62 L540.30,324.78 L540.57,324.94 L540.83,325.10 L541.10,325.26 L541.37,325.43 L541.64,325.59 L541.90,325.76 L542.17,325.93 L542.44,326.11 L542.71,326.28 L542.97,326.46 L543.24,326.64 L543.51,326.82 L543.78,327.01 L544.04,327.19 L544.31,327.38 L544.58,327.58 L544.84,327.77 L545.11,327.97 L545.38,328.17 L545.65,328.37 L545.91,328.58 L546.18,328.78 L546.45,329.00 L546.72,329.21 L546.98,329.43 L547.25,329.65 L547.52,329.87 L547.79,330.10 L548.05,330.33 L548.32,330.56 L548.59,330.80 L548.86,331.04 L549.12,331.28 L549.39,331.53 L549.66,331.78 L549.92,332.04 L550.19,332.30 L550.46,332.57 L550.73,332.84 L550.99,333.11 L551.26,333.39 L551.53,333.67 L551.80,333.96 L552.06,334.25 L552.33,334.55 L552.60,334.85 L552.87,335.16 L553.13,335.48 L553.40,335.80 L553.67,336.13 L553.94,336.46 L554.20,336.80 L554.47,337.15 L554.74,337.50 L555.00,337.84 L555.27,338.20 L555.54,338.60 L555.81,339.06 L556.07,339.58 L556.34,340.13 L556.61,340.73 L556.88,341.36 L557.14,342.00 L557.41,342.66 L557.68,343.33 L557.95,343.98 L558.21,344.63 L558.48,345.27 L558.75,345.92 L559.02,346.58 L559.28,347.24 L559.55,347.91 L559.82,348.58 L560.08,349.25 L560.35,349.92 L560.62,350.60 L560.89,351.30 L561.15,352.02 L561.42,352.74 L561.69,353.46 L561.96,354.17 L562.22,354.88 L562.49,355.56 L562.76,356.23 L563.03,356.87 L563.29,357.47 L563.56,358.03 L563.83,358.56 L564.10,359.06 L564.36,359.53 L564.63,359.99 L564.90,360.44 L565.17,360.89 L565.43,361.33 L565.70,361.77 L565.97,362.14 L566.23,362.48 L566.50,362.80 L566.77,363.15 L567.04,363.54 L567.30,364.00 L567.57,364.56" stroke="#8e2026" stroke-width="1.7" fill="none"/>
<path d="M381.32,432.10 L381.37,430.46 L381.42,428.83 L381.48,427.21 L381.53,425.62 L381.59,424.07 L381.64,422.56 L381.69,421.10 L381.75,419.67 L381.80,418.25 L381.85,416.84 L381.91,415.44 L381.96,414.05 L382.01,412.67 L382.07,411.30 L382.12,409.94 L382.17,408.60 L382.23,407.28 L382.28,405.96 L382.33,404.67 L382.39,403.39 L382.44,402.13 L382.49,400.89 L382.55,399.67 L382.60,398.47 L382.65,397.29 L382.71,396.13 L382.76,395.00 L382.82,393.89 L382.87,392.80 L382.92,391.74 L382.98,390.70 L383.03,389.68 L383.08,388.66 L383.14,387.63 L383.19,386.61 L383.24,385.59 L383.30,384.58 L383.35,383.59 L383.40,382.60 L383.46,381.63 L383.51,380.69 L383.56,379.76 L383.62,378.86 L383.67,377.99 L383.72,377.14 L383.78,376.33 L383.83,375.56 L383.88,374.82 L383.94,374.12 L383.99,373.47 L384.05,372.86 L384.10,372.31 L384.15,371.80 L384.21,371.33 L384.26,370.86 L384.31,370.41 L384.37,369.97 L384.42,369.55 L384.47,369.14 L384.53,368.74 L384.58,368.35 L384.63,367.98 L384.69,367.63 L384.74,367.29 L384.79,366.97 L384.85,366.67 L384.90,366.39 L384.95,366.12 L385.01,365.88 L385.06,365.65 L385.11,365.45 L385.17,365.26 L385.22,365.10" stroke="#c8554a" stroke-width="1.1" fill="none"/>
<path d="M567.79,365.10 L567.84,365.26 L567.89,365.44 L567.95,365.64 L568.00,365.86 L568.05,366.11 L568.11,366.37 L568.16,366.66 L568.21,366.96 L568.27,367.28 L568.32,367.62 L568.37,367.97 L568.43,368.34 L568.48,368.73 L568.53,369.13 L568.59,369.54 L568.64,369.97 L568.69,370.41 L568.75,370.86 L568.80,371.33 L568.85,371.80 L568.91,372.30 L568.96,372.84 L569.02,373.42 L569.07,374.04 L569.12,374.70 L569.18,375.40 L569.23,376.13 L569.28,376.90 L569.34,377.70 L569.39,378.53 L569.44,379.40 L569.50,380.29 L569.55,381.22 L569.60,382.17 L569.66,383.16 L569.71,384.16 L569.76,385.20 L569.82,386.25 L569.87,387.34 L569.92,388.44 L569.98,389.56 L570.03,390.70 L570.08,391.89 L570.14,393.14 L570.19,394.46 L570.25,395.84 L570.30,397.28 L570.35,398.78 L570.41,400.34 L570.46,401.95 L570.51,403.62 L570.57,405.33 L570.62,407.10 L570.67,408.91 L570.73,410.77 L570.78,412.67 L570.83,414.61 L570.89,416.60 L570.94,418.62 L570.99,420.68 L571.05,422.77 L571.10,424.89 L571.15,427.05 L571.21,429.23" stroke="#c8554a" stroke-width="1.1" fill="none"/>
<circle cx="381.7" cy="421.1" r="1.3" fill="#2f5fa5"/>
<circle cx="383.0" cy="390.7" r="1.3" fill="#2f5fa5"/>
<circle cx="384.2" cy="371.8" r="1.3" fill="#2f5fa5"/>
<circle cx="571.2" cy="429.2" r="1.3" fill="#2f5fa5"/>
<circle cx="570.0" cy="390.7" r="1.3" fill="#2f5fa5"/>
<circle cx="568.9" cy="371.8" r="1.3" fill="#2f5fa5"/>
<circle cx="433.6" cy="403" r="1.3" fill="#2f6db5"/>
<text x="449.7" y="407.6" font-family='"Liberation Sans", Arial, sans-serif' fill="#1a1a1a" stroke="#1a1a1a" stroke-width="0.2" font-size="13.4">STL-based</text>
<line x1="426.4" y1="417.5" x2="441.5" y2="417.5" stroke="#e08a80" stroke-width="1.2"/>
<text x="450.2" y="422.4" font-family='"Liberation Sans", Arial, sans-serif' fill="#1a1a1a" stroke="#1a1a1a" stroke-width="0.2" font-size="13.4">Primitive</text>
<text x="7" y="510" font-family='"Liberation Serif", "Times New Roman", serif' fill="#000" stroke="#000" stroke-width="0.3" font-size="26.5">C</text>
<path d="M201,505.5 V685.5 H469.2" stroke="#111" stroke-width="1.8" fill="none"/>
<line x1="194" y1="685.5" x2="201" y2="685.5" stroke="#111" stroke-width="1.8" fill="none"/>
<text x="192.2" y="691.9" text-anchor="end" font-family='"Liberation Sans", Arial, sans-serif' font-weight="bold" fill="#111" stroke="#111" stroke-width="0.45" font-size="16.8">0.00</text>
<line x1="194" y1="649.5" x2="201" y2="649.5" stroke="#111" stroke-width="1.8" fill="none"/>
<text x="192.2" y="655.9" text-anchor="end" font-family='"Liberation Sans", Arial, sans-serif' font-weight="bold" fill="#111" stroke="#111" stroke-width="0.45" font-size="16.8">0.01</text>
<line x1="194" y1="613.5" x2="201" y2="613.5" stroke="#111" stroke-width="1.8" fill="none"/>
<text x="192.2" y="619.9" text-anchor="end" font-family='"Liberation Sans", Arial, sans-serif' font-weight="bold" fill="#111" stroke="#111" stroke-width="0.45" font-size="16.8">0.02</text>
<line x1="194" y1="577.5" x2="201" y2="577.5" stroke="#111" stroke-width="1.8" fill="none"/>
<text x="192.2" y="583.9" text-anchor="end" font-family='"Liberation Sans", Arial, sans-serif' font-weight="bold" fill="#111" stroke="#111" stroke-width="0.45" font-size="16.8">0.03</text>
<line x1="194" y1="541.5" x2="201" y2="541.5" stroke="#111" stroke-width="1.8" fill="none"/>
<text x="192.2" y="547.9" text-anchor="end" font-family='"Liberation Sans", Arial, sans-serif' font-weight="bold" fill="#111" stroke="#111" stroke-width="0.45" font-size="16.8">0.04</text>
<line x1="194" y1="505.5" x2="201" y2="505.5" stroke="#111" stroke-width="1.8" fill="none"/>
<text x="192.2" y="511.9" text-anchor="end" font-family='"Liberation Sans", Arial, sans-serif' font-weight="bold" fill="#111" stroke="#111" stroke-width="0.45" font-size="16.8">0.05</text>
<line x1="201.0" y1="685.5" x2="201.0" y2="693" stroke="#111" stroke-width="1.8" fill="none"/>
<line x1="210.2" y1="685.5" x2="210.2" y2="690" stroke="#111" stroke-width="1.8" fill="none"/>
<line x1="219.5" y1="685.5" x2="219.5" y2="690" stroke="#111" stroke-width="1.8" fill="none"/>
<line x1="228.7" y1="685.5" x2="228.7" y2="690" stroke="#111" stroke-width="1.8" fill="none"/>
<line x1="237.9" y1="685.5" x2="237.9" y2="690" stroke="#111" stroke-width="1.8" fill="none"/>
<line x1="247.2" y1="685.5" x2="247.2" y2="690" stroke="#111" stroke-width="1.8" fill="none"/>
<line x1="256.4" y1="685.5" x2="256.4" y2="690" stroke="#111" stroke-width="1.8" fill="none"/>
<line x1="265.6" y1="685.5" x2="265.6" y2="690" stroke="#111" stroke-width="1.8" fill="none"/>
<line x1="274.8" y1="685.5" x2="274.8" y2="690" stroke="#111" stroke-width="1.8" fill="none"/>
<line x1="284.1" y1="685.5" x2="284.1" y2="690" stroke="#111" stroke-width="1.8" fill="none"/>
<line x1="293.3" y1="685.5" x2="293.3" y2="693" stroke="#111" stroke-width="1.8" fill="none"/>
<line x1="302.5" y1="685.5" x2="302.5" y2="690" stroke="#111" stroke-width="1.8" fill="none"/>
<line x1="311.8" y1="685.5" x2="311.8" y2="690" stroke="#111" stroke-width="1.8" fill="none"/>
<line x1="321.0" y1="685.5" x2="321.0" y2="690" stroke="#111" stroke-width="1.8" fill="none"/>
<line x1="330.2" y1="685.5" x2="330.2" y2="690" stroke="#111" stroke-width="1.8" fill="none"/>
<line x1="339.5" y1="685.5" x2="339.5" y2="690" stroke="#111" stroke-width="1.8" fill="none"/>
<line x1="348.7" y1="685.5" x2="348.7" y2="690" stroke="#111" stroke-width="1.8" fill="none"/>
<line x1="357.9" y1="685.5" x2="357.9" y2="690" stroke="#111" stroke-width="1.8" fill="none"/>
<line x1="367.1" y1="685.5" x2="367.1" y2="690" stroke="#111" stroke-width="1.8" fill="none"/>
<line x1="376.4" y1="685.5" x2="376.4" y2="690" stroke="#111" stroke-width="1.8" fill="none"/>
<line x1="385.6" y1="685.5" x2="385.6" y2="693" stroke="#111" stroke-width="1.8" fill="none"/>
<line x1="394.8" y1="685.5" x2="394.8" y2="690" stroke="#111" stroke-width="1.8" fill="none"/>
<line x1="404.1" y1="685.5" x2="404.1" y2="690" stroke="#111" stroke-width="1.8" fill="none"/>
<line x1="413.3" y1="685.5" x2="413.3" y2="690" stroke="#111" stroke-width="1.8" fill="none"/>
<line x1="422.5" y1="685.5" x2="422.5" y2="690" stroke="#111" stroke-width="1.8" fill="none"/>
<line x1="431.8" y1="685.5" x2="431.8" y2="690" stroke="#111" stroke-width="1.8" fill="none"/>
<line x1="441.0" y1="685.5" x2="441.0" y2="690" stroke="#111" stroke-width="1.8" fill="none"/>
<line x1="450.2" y1="685.5" x2="450.2" y2="690" stroke="#111" stroke-width="1.8" fill="none"/>
<line x1="459.4" y1="685.5" x2="459.4" y2="690" stroke="#111" stroke-width="1.8" fill="none"/>
<text x="201.0" y="711.5" text-anchor="middle" font-family='"Liberation Sans", Arial, sans-serif' font-weight="bold" fill="#111" stroke="#111" stroke-width="0.45" font-size="16.8">0</text>
<text x="293.3" y="711.5" text-anchor="middle" font-family='"Liberation Sans", Arial, sans-serif' font-weight="bold" fill="#111" stroke="#111" stroke-width="0.45" font-size="16.8">200</text>
<text x="385.6" y="711.5" text-anchor="middle" font-family='"Liberation Sans", Arial, sans-serif' font-weight="bold" fill="#111" stroke="#111" stroke-width="0.45" font-size="16.8">400</text>
<text x="335" y="738" text-anchor="middle" font-family='"Liberation Sans", Arial, sans-serif' font-weight="bold" fill="#111" stroke="#111" stroke-width="0.45" font-size="17">Energy (keV)</text>
<text transform="translate(150.9,591.6) rotate(-90)" text-anchor="middle" font-family='"Liberation Sans", Arial, sans-serif' font-weight="bold" fill="#111" stroke="#111" stroke-width="0.45" font-size="17.2">Counts (a.u.)</text>
<path d="M201.30,682.40 L201.50,682.43 L201.70,682.46 L201.90,682.49 L202.10,682.52 L202.30,682.55 L202.50,682.58 L202.70,682.61 L202.90,682.64 L203.10,682.67 L203.30,682.70 L203.50,682.73 L203.70,682.76 L203.90,682.79 L204.10,682.82 L204.30,682.85 L204.50,682.88 L204.70,682.92 L204.90,682.96 L205.10,683.00 L205.30,683.04 L205.50,683.08 L205.70,683.12 L205.90,683.16 L206.10,683.20 L206.30,683.24 L206.50,683.28 L206.70,683.32 L206.90,683.36 L207.10,683.40 L207.30,683.44 L207.50,683.48 L207.70,683.52 L207.90,683.56 L208.10,683.60 L208.30,683.64 L208.50,683.68 L208.70,683.72 L208.90,683.76 L209.10,683.80 L209.30,683.84 L209.50,683.88 L209.70,683.91 L209.90,683.93 L210.10,683.95 L210.30,683.97 L210.50,683.99 L210.70,684.01 L210.90,684.03 L211.10,684.05 L211.30,684.07 L211.50,684.09 L211.70,684.11 L211.90,684.13 L212.10,684.15 L212.30,684.17 L212.50,684.19 L212.70,684.21 L212.90,684.23 L213.10,684.25 L213.30,684.27 L213.50,684.29 L213.70,684.31 L213.90,684.33 L214.10,684.35 L214.30,684.37 L214.50,684.38 L214.70,684.39 L214.90,684.37 L215.10,684.35 L215.30,684.33 L215.50,684.31 L215.70,684.30 L215.90,684.28 L216.10,684.26 L216.30,684.24 L216.50,684.22 L216.70,684.20 L216.90,684.18 L217.10,684.16 L217.30,684.14 L217.50,684.12 L217.70,684.10 L217.90,684.09 L218.10,684.07 L218.30,684.05 L218.50,684.03 L218.70,684.00 L218.90,683.96 L219.10,683.88 L219.30,683.80 L219.50,683.73 L219.70,683.65 L219.90,683.57 L220.10,683.49 L220.30,683.41 L220.50,683.34 L220.70,683.26 L220.90,683.18 L221.10,683.10 L221.30,683.02 L221.50,682.95 L221.70,682.87 L221.90,682.79 L222.10,682.71 L222.30,682.63 L222.50,682.56 L222.70,682.48 L222.90,682.40 L223.10,682.33 L223.30,682.26 L223.50,682.19 L223.70,682.11 L223.90,682.04 L224.10,681.97 L224.30,681.90 L224.50,681.83 L224.70,681.76 L224.90,681.69 L225.10,681.61 L225.30,681.54 L225.50,681.47 L225.70,681.40 L225.90,681.33 L226.10,681.26 L226.30,681.19 L226.50,681.11 L226.70,681.04 L226.90,680.98 L227.10,680.92 L227.30,680.92 L227.50,680.95 L227.70,680.97 L227.90,681.00 L228.10,681.02 L228.30,681.04 L228.50,681.07 L228.70,681.09 L228.90,681.12 L229.10,681.14 L229.30,681.16 L229.50,681.18 L229.70,681.17 L229.90,681.16 L230.10,681.14 L230.30,681.11 L230.50,681.09 L230.70,681.07 L230.90,681.04 L231.10,681.02 L231.30,680.99 L231.50,680.97 L231.70,680.94 L231.90,680.92 L232.10,680.90 L232.30,680.87 L232.50,680.85 L232.70,680.82 L232.90,680.80 L233.10,680.77 L233.30,680.75 L233.50,680.72 L233.70,680.69 L233.90,680.64 L234.10,680.59 L234.30,680.53 L234.50,680.47 L234.70,680.41 L234.90,680.35 L235.10,680.30 L235.30,680.24 L235.50,680.18 L235.70,680.12 L235.90,680.06 L236.10,680.00 L236.30,679.94 L236.50,679.88 L236.70,679.82 L236.90,679.75 L237.10,679.68 L237.30,679.61 L237.50,679.54 L237.70,679.46 L237.90,679.38 L238.10,679.29 L238.30,679.20 L238.50,679.09 L238.70,678.98 L238.90,678.85 L239.10,678.72 L239.30,678.56 L239.50,678.40 L239.70,678.21 L239.90,678.00 L240.10,677.78 L240.30,677.51 L240.50,677.24 L240.70,676.90 L240.90,676.55 L241.10,676.15 L241.30,675.71 L241.50,675.25 L241.70,674.72 L241.90,674.18 L242.10,673.53 L242.30,672.87 L242.50,672.13 L242.70,671.35 L242.90,670.52 L243.10,669.61 L243.30,668.71 L243.50,667.76 L243.70,666.81 L243.90,665.85 L244.10,664.88 L244.30,663.89 L244.50,662.88 L244.70,661.88 L244.90,660.89 L245.10,659.90 L245.30,658.97 L245.50,658.05 L245.70,657.21 L245.90,656.43 L246.10,655.69 L246.30,655.11 L246.50,654.53 L246.70,654.16 L246.90,653.82 L247.10,653.63 L247.30,653.57 L247.50,653.57 L247.70,653.79 L247.90,654.01 L248.10,654.49 L248.30,654.98 L248.50,655.62 L248.70,656.36 L248.90,657.16 L249.10,658.09 L249.30,659.02 L249.50,660.09 L249.70,661.15 L249.90,662.28 L250.10,663.44 L250.30,664.60 L250.50,665.79 L250.70,666.97 L250.90,668.11 L251.10,669.26 L251.30,670.34 L251.50,671.41 L251.70,672.43 L251.90,673.39 L252.10,674.33 L252.30,675.17 L252.50,676.01 L252.70,676.74 L252.90,677.46 L253.10,678.10 L253.30,678.69 L253.50,679.26 L253.70,679.74 L253.90,680.22 L254.10,680.62 L254.30,681.00 L254.50,681.34 L254.70,681.65 L254.90,681.94 L255.10,682.19 L255.30,682.44 L255.50,682.64 L255.70,682.84 L255.90,683.01 L256.10,683.16 L256.30,683.27 L256.50,683.33 L256.70,683.40 L256.90,683.45 L257.10,683.50 L257.30,683.54 L257.50,683.57 L257.70,683.61 L257.90,683.64 L258.10,683.67 L258.30,683.70 L258.50,683.72 L258.70,683.75 L258.90,683.77 L259.10,683.79 L259.30,683.81 L259.50,683.84 L259.70,683.86 L259.90,683.88 L260.10,683.90 L260.30,683.92 L260.50,683.94 L260.70,683.96 L260.90,683.97 L261.10,683.98 L261.30,683.98 L261.50,683.96 L261.70,683.94 L261.90,683.92 L262.10,683.90 L262.30,683.88 L262.50,683.86 L262.70,683.84 L262.90,683.82 L263.10,683.80 L263.30,683.78 L263.50,683.76 L263.70,683.74 L263.90,683.71 L264.10,683.68 L264.30,683.65 L264.50,683.62 L264.70,683.57 L264.90,683.53 L265.10,683.47 L265.30,683.40 L265.50,683.33 L265.70,683.22 L265.90,683.12 L266.10,682.95 L266.30,682.77 L266.50,682.52 L266.70,682.22 L266.90,681.86 L267.10,681.36 L267.30,680.87 L267.50,680.09 L267.70,679.31 L267.90,678.24 L268.10,677.06 L268.30,675.65 L268.50,673.91 L268.70,672.10 L268.90,669.65 L269.10,667.20 L269.30,664.05 L269.50,660.74 L269.70,656.93 L269.90,652.62 L270.10,648.12 L270.30,642.77 L270.50,637.41 L270.70,631.18 L270.90,624.83 L271.10,618.01 L271.30,610.84 L271.50,603.54 L271.70,595.87 L271.90,588.21 L272.10,580.51 L272.30,572.80 L272.50,565.44 L272.70,558.26 L272.90,551.45 L273.10,545.39 L273.30,539.37 L273.50,534.97 L273.70,530.57 L273.90,527.67 L274.10,525.35 L274.30,523.99 L274.50,523.99 L274.70,524.23 L274.90,526.54 L275.10,528.85 L275.30,532.83 L275.50,537.23 L275.70,542.44 L275.90,548.50 L276.10,554.76 L276.30,561.93 L276.50,569.10 L276.70,576.73 L276.90,584.43 L277.10,592.10 L277.30,599.76 L277.50,607.29 L277.70,614.45 L277.90,621.62 L278.10,628.00 L278.30,634.34 L278.50,640.04 L278.70,645.39 L278.90,650.38 L279.10,654.68 L279.30,658.95 L279.50,662.26 L279.70,665.57 L279.90,668.25 L280.10,670.69 L280.30,672.84 L280.50,674.56 L280.70,676.23 L280.90,677.41 L281.10,678.58 L281.30,679.43 L281.50,680.20 L281.70,680.83 L281.90,681.31 L282.10,681.76 L282.30,682.05 L282.50,682.34 L282.70,682.52 L282.90,682.69 L283.10,682.81 L283.30,682.91 L283.50,682.99 L283.70,683.04 L283.90,683.08 L284.10,683.11 L284.30,683.13 L284.50,683.16 L284.70,683.20 L284.90,683.23 L285.10,683.27 L285.30,683.30 L285.50,683.32 L285.70,683.35 L285.90,683.38 L286.10,683.40 L286.30,683.43 L286.50,683.45 L286.70,683.48 L286.90,683.50 L287.10,683.53 L287.30,683.55 L287.50,683.58 L287.70,683.60 L287.90,683.62 L288.10,683.65 L288.30,683.67 L288.50,683.70 L288.70,683.72 L288.90,683.75 L289.10,683.77 L289.30,683.79 L289.50,683.82 L289.70,683.84 L289.90,683.87 L290.10,683.89 L290.30,683.92 L290.50,683.94 L290.70,683.96 L290.90,683.99 L291.10,684.00 L291.30,684.02 L291.50,684.03 L291.70,684.04 L291.90,684.05 L292.10,684.07 L292.30,684.08 L292.50,684.09 L292.70,684.10 L292.90,684.11 L293.10,684.13 L293.30,684.14 L293.50,684.15 L293.70,684.16 L293.90,684.17 L294.10,684.19 L294.30,684.20 L294.50,684.21 L294.70,684.22 L294.90,684.23 L295.10,684.24 L295.30,684.26 L295.50,684.27 L295.70,684.28 L295.90,684.29 L296.10,684.30 L296.30,684.32 L296.50,684.33 L296.70,684.34 L296.90,684.35 L297.10,684.36 L297.30,684.38 L297.50,684.39 L297.70,684.40 L297.90,684.40 L298.10,684.40 L298.30,684.40 L298.50,684.40 L298.70,684.40 L298.90,684.41 L299.10,684.41 L299.30,684.41 L299.50,684.41 L299.70,684.41 L299.90,684.41 L300.10,684.41 L300.30,684.41 L300.50,684.41 L300.70,684.41 L300.90,684.41 L301.10,684.42 L301.30,684.42 L301.50,684.42 L301.70,684.42 L301.90,684.42 L302.10,684.42 L302.30,684.42 L302.50,684.42 L302.70,684.42 L302.90,684.42 L303.10,684.42 L303.30,684.43 L303.50,684.43 L303.70,684.43 L303.90,684.43 L304.10,684.43 L304.30,684.43 L304.50,684.43 L304.70,684.43 L304.90,684.43 L305.10,684.43 L305.30,684.43 L305.50,684.43 L305.70,684.44 L305.90,684.44 L306.10,684.44 L306.30,684.44 L306.50,684.44 L306.70,684.44 L306.90,684.44 L307.10,684.44 L307.30,684.44 L307.50,684.44 L307.70,684.44 L307.90,684.45 L308.10,684.45 L308.30,684.45 L308.50,684.45 L308.70,684.45 L308.90,684.45 L309.10,684.45 L309.30,684.45 L309.50,684.45 L309.70,684.45 L309.90,684.45 L310.10,684.46 L310.30,684.46 L310.50,684.46 L310.70,684.46 L310.90,684.46 L311.10,684.46 L311.30,684.46 L311.50,684.46 L311.70,684.46 L311.90,684.46 L312.10,684.46 L312.30,684.47 L312.50,684.47 L312.70,684.47 L312.90,684.47 L313.10,684.47 L313.30,684.47 L313.50,684.47 L313.70,684.47 L313.90,684.47 L314.10,684.47 L314.30,684.47 L314.50,684.48 L314.70,684.48 L314.90,684.48 L315.10,684.48 L315.30,684.48 L315.50,684.48 L315.70,684.48 L315.90,684.48 L316.10,684.48 L316.30,684.48 L316.50,684.48 L316.70,684.49 L316.90,684.49 L317.10,684.49 L317.30,684.49 L317.50,684.49 L317.70,684.49 L317.90,684.49 L318.10,684.49 L318.30,684.49 L318.50,684.49 L318.70,684.49 L318.90,684.50 L319.10,684.50 L319.30,684.50 L319.50,684.50 L319.70,684.50 L319.90,684.50 L320.10,684.50 L320.30,684.50 L320.50,684.50 L320.70,684.50 L320.90,684.50 L321.10,684.50 L321.30,684.50 L321.50,684.50 L321.70,684.50 L321.90,684.50 L322.10,684.50 L322.30,684.50 L322.50,684.50 L322.70,684.50 L322.90,684.50 L323.10,684.51 L323.30,684.51 L323.50,684.51 L323.70,684.51 L323.90,684.51 L324.10,684.51 L324.30,684.51 L324.50,684.51 L324.70,684.51 L324.90,684.51 L325.10,684.51 L325.30,684.51 L325.50,684.51 L325.70,684.51 L325.90,684.51 L326.10,684.51 L326.30,684.51 L326.50,684.51 L326.70,684.51 L326.90,684.51 L327.10,684.51 L327.30,684.51 L327.50,684.51 L327.70,684.51 L327.90,684.51 L328.10,684.51 L328.30,684.51 L328.50,684.51 L328.70,684.51 L328.90,684.51 L329.10,684.52 L329.30,684.52 L329.50,684.52 L329.70,684.52 L329.90,684.52 L330.10,684.52 L330.30,684.52 L330.50,684.52 L330.70,684.52 L330.90,684.52 L331.10,684.52 L331.30,684.52 L331.50,684.52 L331.70,684.52 L331.90,684.52 L332.10,684.52 L332.30,684.52 L332.50,684.52 L332.70,684.52 L332.90,684.52 L333.10,684.52 L333.30,684.52 L333.50,684.52 L333.70,684.52 L333.90,684.52 L334.10,684.52 L334.30,684.52 L334.50,684.52 L334.70,684.52 L334.90,684.52 L335.10,684.53 L335.30,684.53 L335.50,684.53 L335.70,684.53 L335.90,684.53 L336.10,684.53 L336.30,684.53 L336.50,684.53 L336.70,684.53 L336.90,684.53 L337.10,684.53 L337.30,684.53 L337.50,684.53 L337.70,684.53 L337.90,684.53 L338.10,684.53 L338.30,684.53 L338.50,684.53 L338.70,684.53 L338.90,684.53 L339.10,684.53 L339.30,684.53 L339.50,684.53 L339.70,684.53 L339.90,684.53 L340.10,684.53 L340.30,684.53 L340.50,684.53 L340.70,684.53 L340.90,684.53 L341.10,684.54 L341.30,684.54 L341.50,684.54 L341.70,684.54 L341.90,684.54 L342.10,684.54 L342.30,684.54 L342.50,684.54 L342.70,684.54 L342.90,684.54 L343.10,684.54 L343.30,684.54 L343.50,684.54 L343.70,684.54 L343.90,684.54 L344.10,684.54 L344.30,684.54 L344.50,684.54 L344.70,684.54 L344.90,684.54 L345.10,684.54 L345.30,684.54 L345.50,684.54 L345.70,684.54 L345.90,684.54 L346.10,684.54 L346.30,684.54 L346.50,684.54 L346.70,684.54 L346.90,684.54 L347.10,684.55 L347.30,684.55 L347.50,684.55 L347.70,684.55 L347.90,684.55 L348.10,684.55 L348.30,684.55 L348.50,684.55 L348.70,684.55 L348.90,684.55 L349.10,684.55 L349.30,684.55 L349.50,684.55 L349.70,684.55 L349.90,684.55 L350.10,684.55 L350.30,684.55 L350.50,684.55 L350.70,684.55 L350.90,684.55 L351.10,684.55 L351.30,684.55 L351.50,684.55 L351.70,684.55 L351.90,684.55 L352.10,684.55 L352.30,684.55 L352.50,684.55 L352.70,684.55 L352.90,684.55 L353.10,684.56 L353.30,684.56 L353.50,684.56 L353.70,684.56 L353.90,684.56 L354.10,684.56 L354.30,684.56 L354.50,684.56 L354.70,684.56 L354.90,684.56 L355.10,684.56 L355.30,684.56 L355.50,684.56 L355.70,684.56 L355.90,684.56 L356.10,684.56 L356.30,684.56 L356.50,684.56 L356.70,684.56 L356.90,684.56 L357.10,684.56 L357.30,684.56 L357.50,684.56 L357.70,684.56 L357.90,684.56 L358.10,684.56 L358.30,684.56 L358.50,684.56 L358.70,684.56 L358.90,684.56 L359.10,684.57 L359.30,684.57 L359.50,684.57 L359.70,684.57 L359.90,684.57 L360.10,684.57 L360.30,684.57 L360.50,684.57 L360.70,684.57 L360.90,684.57 L361.10,684.57 L361.30,684.57 L361.50,684.57 L361.70,684.57 L361.90,684.57 L362.10,684.57 L362.30,684.57 L362.50,684.57 L362.70,684.57 L362.90,684.57 L363.10,684.57 L363.30,684.57 L363.50,684.57 L363.70,684.57 L363.90,684.57 L364.10,684.57 L364.30,684.57 L364.50,684.57 L364.70,684.57 L364.90,684.57 L365.10,684.58 L365.30,684.58 L365.50,684.58 L365.70,684.58 L365.90,684.58 L366.10,684.58 L366.30,684.58 L366.50,684.58 L366.70,684.58 L366.90,684.58 L367.10,684.58 L367.30,684.58 L367.50,684.58 L367.70,684.58 L367.90,684.58 L368.10,684.58 L368.30,684.58 L368.50,684.58 L368.70,684.58 L368.90,684.58 L369.10,684.58 L369.30,684.58 L369.50,684.58 L369.70,684.58 L369.90,684.58 L370.10,684.58 L370.30,684.58 L370.50,684.58 L370.70,684.58 L370.90,684.58 L371.10,684.59 L371.30,684.59 L371.50,684.59 L371.70,684.59 L371.90,684.59 L372.10,684.59 L372.30,684.59 L372.50,684.59 L372.70,684.59 L372.90,684.59 L373.10,684.59 L373.30,684.59 L373.50,684.59 L373.70,684.59 L373.90,684.59 L374.10,684.59 L374.30,684.59 L374.50,684.59 L374.70,684.59 L374.90,684.59 L375.10,684.59 L375.30,684.59 L375.50,684.59 L375.70,684.59 L375.90,684.59 L376.10,684.59 L376.30,684.59 L376.50,684.59 L376.70,684.59 L376.90,684.59 L377.10,684.60 L377.30,684.60 L377.50,684.60 L377.70,684.60 L377.90,684.60 L378.10,684.60 L378.30,684.60 L378.50,684.60 L378.70,684.60 L378.90,684.60 L379.10,684.60 L379.30,684.60 L379.50,684.60 L379.70,684.60 L379.90,684.60 L380.10,684.60 L380.30,684.59 L380.50,684.59 L380.70,684.59 L380.90,684.59 L381.10,684.58 L381.30,684.58 L381.50,684.58 L381.70,684.57 L381.90,684.57 L382.10,684.57 L382.30,684.56 L382.50,684.56 L382.70,684.56 L382.90,684.55 L383.10,684.55 L383.30,684.55 L383.50,684.54 L383.70,684.54 L383.90,684.54 L384.10,684.53 L384.30,684.53 L384.50,684.53 L384.70,684.52 L384.90,684.52 L385.10,684.52 L385.30,684.51 L385.50,684.51 L385.70,684.51 L385.90,684.50 L386.10,684.50 L386.30,684.50 L386.50,684.49 L386.70,684.49 L386.90,684.49 L387.10,684.48 L387.30,684.48 L387.50,684.48 L387.70,684.47 L387.90,684.47 L388.10,684.47 L388.30,684.46 L388.50,684.46 L388.70,684.46 L388.90,684.45 L389.10,684.45 L389.30,684.45 L389.50,684.44 L389.70,684.44 L389.90,684.44 L390.10,684.44 L390.30,684.43 L390.50,684.43 L390.70,684.43 L390.90,684.42 L391.10,684.42 L391.30,684.42 L391.50,684.41 L391.70,684.41 L391.90,684.41 L392.10,684.40 L392.30,684.40 L392.50,684.40 L392.70,684.39 L392.90,684.39 L393.10,684.39 L393.30,684.38 L393.50,684.38 L393.70,684.38 L393.90,684.37 L394.10,684.37 L394.30,684.37 L394.50,684.36 L394.70,684.36 L394.90,684.36 L395.10,684.35 L395.30,684.35 L395.50,684.35 L395.70,684.34 L395.90,684.34 L396.10,684.34 L396.30,684.33 L396.50,684.33 L396.70,684.33 L396.90,684.32 L397.10,684.32 L397.30,684.32 L397.50,684.31 L397.70,684.31 L397.90,684.31 L398.10,684.30 L398.30,684.30 L398.50,684.30 L398.70,684.29 L398.90,684.29 L399.10,684.29 L399.30,684.28 L399.50,684.28 L399.70,684.28 L399.90,684.28 L400.10,684.27 L400.30,684.27 L400.50,684.27 L400.70,684.26 L400.90,684.26 L401.10,684.26 L401.30,684.25 L401.50,684.25 L401.70,684.25 L401.90,684.24 L402.10,684.24 L402.30,684.24 L402.50,684.23 L402.70,684.23 L402.90,684.23 L403.10,684.22 L403.30,684.22 L403.50,684.22 L403.70,684.21 L403.90,684.21 L404.10,684.21 L404.30,684.20 L404.50,684.20 L404.70,684.20 L404.90,684.20 L405.10,684.21 L405.30,684.21 L405.50,684.21 L405.70,684.21 L405.90,684.22 L406.10,684.22 L406.30,684.22 L406.50,684.22 L406.70,684.23 L406.90,684.23 L407.10,684.23 L407.30,684.23 L407.50,684.24 L407.70,684.24 L407.90,684.24 L408.10,684.24 L408.30,684.24 L408.50,684.25 L408.70,684.25 L408.90,684.25 L409.10,684.25 L409.30,684.26 L409.50,684.26 L409.70,684.26 L409.90,684.26 L410.10,684.27 L410.30,684.27 L410.50,684.27 L410.70,684.27 L410.90,684.28 L411.10,684.28 L411.30,684.28 L411.50,684.28 L411.70,684.28 L411.90,684.29 L412.10,684.29 L412.30,684.29 L412.50,684.29 L412.70,684.30 L412.90,684.30 L413.10,684.30 L413.30,684.30 L413.50,684.31 L413.70,684.31 L413.90,684.31 L414.10,684.31 L414.30,684.32 L414.50,684.32 L414.70,684.32 L414.90,684.32 L415.10,684.32 L415.30,684.33 L415.50,684.33 L415.70,684.33 L415.90,684.33 L416.10,684.34 L416.30,684.34 L416.50,684.34 L416.70,684.34 L416.90,684.35 L417.10,684.35 L417.30,684.35 L417.50,684.35 L417.70,684.36 L417.90,684.36 L418.10,684.36 L418.30,684.36 L418.50,684.36 L418.70,684.37 L418.90,684.37 L419.10,684.37 L419.30,684.37 L419.50,684.38 L419.70,684.38 L419.90,684.38 L420.10,684.38 L420.30,684.39 L420.50,684.39 L420.70,684.39 L420.90,684.39 L421.10,684.40 L421.30,684.40 L421.50,684.40 L421.70,684.40 L421.90,684.40 L422.10,684.41 L422.30,684.41 L422.50,684.41 L422.70,684.41 L422.90,684.42 L423.10,684.42 L423.30,684.42 L423.50,684.42 L423.70,684.43 L423.90,684.43 L424.10,684.43 L424.30,684.43 L424.50,684.44 L424.70,684.44 L424.90,684.44 L425.10,684.44 L425.30,684.44 L425.50,684.45 L425.70,684.45 L425.90,684.45 L426.10,684.45 L426.30,684.46 L426.50,684.46 L426.70,684.46 L426.90,684.46 L427.10,684.47 L427.30,684.47 L427.50,684.47 L427.70,684.47 L427.90,684.48 L428.10,684.48 L428.30,684.48 L428.50,684.48 L428.70,684.48 L428.90,684.49 L429.10,684.49 L429.30,684.49 L429.50,684.49 L429.70,684.50 L429.90,684.50 L430.10,684.50 L430.30,684.50 L430.50,684.49 L430.70,684.49 L430.90,684.49 L431.10,684.49 L431.30,684.48 L431.50,684.48 L431.70,684.48 L431.90,684.48 L432.10,684.47 L432.30,684.47 L432.50,684.47 L432.70,684.47 L432.90,684.46 L433.10,684.46 L433.30,684.46 L433.50,684.45 L433.70,684.45 L433.90,684.45 L434.10,684.44 L434.30,684.44 L434.50,684.44 L434.70,684.43 L434.90,684.43 L435.10,684.42 L435.30,684.42 L435.50,684.41 L435.70,684.41 L435.90,684.40 L436.10,684.39 L436.30,684.38 L436.50,684.37 L436.70,684.36 L436.90,684.35 L437.10,684.34 L437.30,684.32 L437.50,684.30 L437.70,684.28 L437.90,684.26 L438.10,684.23 L438.30,684.21 L438.50,684.18 L438.70,684.14 L438.90,684.11 L439.10,684.06 L439.30,684.02 L439.50,683.97 L439.70,683.91 L439.90,683.85 L440.10,683.78 L440.30,683.71 L440.50,683.64 L440.70,683.55 L440.90,683.47 L441.10,683.38 L441.30,683.28 L441.50,683.18 L441.70,683.08 L441.90,682.97 L442.10,682.86 L442.30,682.75 L442.50,682.64 L442.70,682.52 L442.90,682.41 L443.10,682.30 L443.30,682.19 L443.50,682.08 L443.70,681.98 L443.90,681.89 L444.10,681.80 L444.30,681.72 L444.50,681.64 L444.70,681.58 L444.90,681.52 L445.10,681.48 L445.30,681.44 L445.50,681.42 L445.70,681.41 L445.90,681.40 L446.10,681.42 L446.30,681.44 L446.50,681.48 L446.70,681.52 L446.90,681.58 L447.10,681.64 L447.30,681.71 L447.50,681.80 L447.70,681.89 L447.90,681.98 L448.10,682.09 L448.30,682.19 L448.50,682.30 L448.70,682.41 L448.90,682.52 L449.10,682.64 L449.30,682.75 L449.50,682.86 L449.70,682.97 L449.90,683.08 L450.10,683.18 L450.30,683.28 L450.50,683.38 L450.70,683.47 L450.90,683.56 L451.10,683.64 L451.30,683.71 L451.50,683.78 L451.70,683.85 L451.90,683.91 L452.10,683.96 L452.30,684.02 L452.50,684.06 L452.70,684.10 L452.90,684.14 L453.10,684.18 L453.30,684.21 L453.50,684.23 L453.70,684.26 L453.90,684.28 L454.10,684.30 L454.30,684.31 L454.50,684.32 L454.70,684.34 L454.90,684.35 L455.10,684.36 L455.30,684.36 L455.50,684.37 L455.70,684.37 L455.90,684.38 L456.10,684.38 L456.30,684.39 L456.50,684.39 L456.70,684.39 L456.90,684.39 L457.10,684.39 L457.30,684.40 L457.50,684.40 L457.70,684.40 L457.90,684.40 L458.10,684.40 L458.30,684.40 L458.50,684.40 L458.70,684.40 L458.90,684.40 L459.10,684.40 L459.30,684.40 L459.50,684.40 L459.70,684.40 L459.90,684.40 L460.10,684.40 L460.30,684.40 L460.50,684.40 L460.70,684.40 L460.90,684.40 L461.10,684.40 L461.30,684.40 L461.50,684.40 L461.70,684.40 L461.90,684.40 L462.10,684.40 L462.30,684.40 L462.50,684.40 L462.70,684.40 L462.90,684.40 L463.10,684.40 L463.30,684.40 L463.50,684.40 L463.70,684.40 L463.90,684.40 L464.10,684.40 L464.30,684.40 L464.50,684.40 L464.70,684.40 L464.90,684.40 L465.10,684.40 L465.30,684.40 L465.50,684.40 L465.70,684.40 L465.90,684.40 L466.10,684.40 L466.30,684.40 L466.50,684.40 L466.70,684.40 L466.90,684.40 L467.10,684.40 L467.30,684.40 L467.50,684.40 L467.70,684.40 L467.90,684.40 L468.10,684.40 L468.30,684.40 L468.50,684.40 L468.70,684.40 L468.90,684.40 L469.10,684.40" stroke="#c84c3a" stroke-width="1.7" stroke-dasharray="3 0.6" fill="none"/>
<g fill="#2a5ea8"><circle cx="201.30" cy="682.40" r="1.0"/><circle cx="201.76" cy="682.47" r="1.0"/><circle cx="202.22" cy="682.54" r="1.0"/><circle cx="202.68" cy="682.61" r="1.0"/><circle cx="203.15" cy="682.68" r="1.0"/><circle cx="203.61" cy="682.75" r="1.0"/><circle cx="204.07" cy="682.82" r="1.0"/><circle cx="204.53" cy="682.89" r="1.0"/><circle cx="204.99" cy="682.98" r="1.0"/><circle cx="205.45" cy="683.07" r="1.0"/><circle cx="205.92" cy="683.16" r="1.0"/><circle cx="206.38" cy="683.26" r="1.0"/><circle cx="206.84" cy="683.35" r="1.0"/><circle cx="207.30" cy="683.44" r="1.0"/><circle cx="207.76" cy="683.53" r="1.0"/><circle cx="208.22" cy="683.62" r="1.0"/><circle cx="208.68" cy="683.72" r="1.0"/><circle cx="209.15" cy="683.81" r="1.0"/><circle cx="209.61" cy="683.90" r="1.0"/><circle cx="210.07" cy="683.95" r="1.0"/><circle cx="210.53" cy="683.99" r="1.0"/><circle cx="210.99" cy="684.04" r="1.0"/><circle cx="211.45" cy="684.09" r="1.0"/><circle cx="211.91" cy="684.13" r="1.0"/><circle cx="212.38" cy="684.18" r="1.0"/><circle cx="212.84" cy="684.22" r="1.0"/><circle cx="213.30" cy="684.27" r="1.0"/><circle cx="213.76" cy="684.32" r="1.0"/><circle cx="214.22" cy="684.36" r="1.0"/><circle cx="214.68" cy="684.39" r="1.0"/><circle cx="215.15" cy="684.35" r="1.0"/><circle cx="215.61" cy="684.30" r="1.0"/><circle cx="216.07" cy="684.26" r="1.0"/><circle cx="216.53" cy="684.22" r="1.0"/><circle cx="216.99" cy="684.17" r="1.0"/><circle cx="217.45" cy="684.13" r="1.0"/><circle cx="217.91" cy="684.08" r="1.0"/><circle cx="218.38" cy="684.04" r="1.0"/><circle cx="218.84" cy="683.99" r="1.0"/><circle cx="219.30" cy="683.81" r="1.0"/><circle cx="219.76" cy="683.63" r="1.0"/><circle cx="220.22" cy="683.45" r="1.0"/><circle cx="220.68" cy="683.27" r="1.0"/><circle cx="221.14" cy="683.09" r="1.0"/><circle cx="221.61" cy="682.90" r="1.0"/><circle cx="222.07" cy="682.72" r="1.0"/><circle cx="222.53" cy="682.54" r="1.0"/><circle cx="222.99" cy="682.37" r="1.0"/><circle cx="223.45" cy="682.20" r="1.0"/><circle cx="223.91" cy="682.04" r="1.0"/><circle cx="224.38" cy="681.87" r="1.0"/><circle cx="224.84" cy="681.71" r="1.0"/><circle cx="225.30" cy="681.54" r="1.0"/><circle cx="225.76" cy="681.38" r="1.0"/><circle cx="226.22" cy="681.21" r="1.0"/><circle cx="226.68" cy="681.05" r="1.0"/><circle cx="227.14" cy="680.91" r="1.0"/><circle cx="227.61" cy="680.96" r="1.0"/><circle cx="228.07" cy="681.02" r="1.0"/><circle cx="228.53" cy="681.07" r="1.0"/><circle cx="228.99" cy="681.13" r="1.0"/><circle cx="229.45" cy="681.18" r="1.0"/><circle cx="229.91" cy="681.16" r="1.0"/><circle cx="230.37" cy="681.11" r="1.0"/><circle cx="230.84" cy="681.05" r="1.0"/><circle cx="231.30" cy="680.99" r="1.0"/><circle cx="231.76" cy="680.94" r="1.0"/><circle cx="232.22" cy="680.88" r="1.0"/><circle cx="232.68" cy="680.82" r="1.0"/><circle cx="233.14" cy="680.77" r="1.0"/><circle cx="233.61" cy="680.71" r="1.0"/><circle cx="234.07" cy="680.59" r="1.0"/><circle cx="234.53" cy="680.46" r="1.0"/><circle cx="234.99" cy="680.33" r="1.0"/><circle cx="235.45" cy="680.19" r="1.0"/><circle cx="235.91" cy="680.06" r="1.0"/><circle cx="236.37" cy="679.92" r="1.0"/><circle cx="236.84" cy="679.77" r="1.0"/><circle cx="237.30" cy="679.62" r="1.0"/><circle cx="237.76" cy="679.44" r="1.0"/><circle cx="238.22" cy="679.24" r="1.0"/><circle cx="238.68" cy="678.99" r="1.0"/><circle cx="239.14" cy="678.69" r="1.0"/><circle cx="239.60" cy="678.31" r="1.0"/><circle cx="240.07" cy="677.83" r="1.0"/><circle cx="240.53" cy="677.20" r="1.0"/><circle cx="240.99" cy="676.39" r="1.0"/><circle cx="241.45" cy="675.39" r="1.0"/><circle cx="241.91" cy="674.15" r="1.0"/><circle cx="242.37" cy="672.63" r="1.0"/><circle cx="242.84" cy="670.82" r="1.0"/><circle cx="243.30" cy="668.72" r="1.0"/><circle cx="243.76" cy="666.54" r="1.0"/><circle cx="244.22" cy="664.30" r="1.0"/><circle cx="244.68" cy="661.97" r="1.0"/><circle cx="245.14" cy="659.69" r="1.0"/><circle cx="245.60" cy="657.58" r="1.0"/><circle cx="246.07" cy="655.79" r="1.0"/><circle cx="246.53" cy="654.45" r="1.0"/><circle cx="246.99" cy="653.67" r="1.0"/><circle cx="247.45" cy="653.52" r="1.0"/><circle cx="247.91" cy="654.02" r="1.0"/><circle cx="248.37" cy="655.16" r="1.0"/><circle cx="248.83" cy="656.85" r="1.0"/><circle cx="249.30" cy="659.00" r="1.0"/><circle cx="249.76" cy="661.46" r="1.0"/><circle cx="250.22" cy="664.13" r="1.0"/><circle cx="250.68" cy="666.85" r="1.0"/><circle cx="251.14" cy="669.50" r="1.0"/><circle cx="251.60" cy="671.97" r="1.0"/><circle cx="252.07" cy="674.19" r="1.0"/><circle cx="252.53" cy="676.12" r="1.0"/><circle cx="252.99" cy="677.77" r="1.0"/><circle cx="253.45" cy="679.14" r="1.0"/><circle cx="253.91" cy="680.25" r="1.0"/><circle cx="254.37" cy="681.15" r="1.0"/><circle cx="254.83" cy="681.86" r="1.0"/><circle cx="255.30" cy="682.43" r="1.0"/><circle cx="255.76" cy="682.90" r="1.0"/><circle cx="256.22" cy="683.24" r="1.0"/><circle cx="256.68" cy="683.39" r="1.0"/><circle cx="257.14" cy="683.51" r="1.0"/><circle cx="257.60" cy="683.59" r="1.0"/><circle cx="258.06" cy="683.66" r="1.0"/><circle cx="258.53" cy="683.72" r="1.0"/><circle cx="258.99" cy="683.78" r="1.0"/><circle cx="259.45" cy="683.83" r="1.0"/><circle cx="259.91" cy="683.88" r="1.0"/><circle cx="260.37" cy="683.93" r="1.0"/><circle cx="260.83" cy="683.97" r="1.0"/><circle cx="261.30" cy="683.98" r="1.0"/><circle cx="261.76" cy="683.94" r="1.0"/><circle cx="262.22" cy="683.89" r="1.0"/><circle cx="262.68" cy="683.85" r="1.0"/><circle cx="263.14" cy="683.80" r="1.0"/><circle cx="263.60" cy="683.75" r="1.0"/><circle cx="264.06" cy="683.69" r="1.0"/><circle cx="264.53" cy="683.61" r="1.0"/><circle cx="264.99" cy="683.51" r="1.0"/><circle cx="265.45" cy="683.35" r="1.0"/><circle cx="265.91" cy="683.12" r="1.0"/><circle cx="266.37" cy="682.71" r="1.0"/><circle cx="266.83" cy="682.02" r="1.0"/><circle cx="267.29" cy="680.89" r="1.0"/><circle cx="267.76" cy="679.10" r="1.0"/><circle cx="268.22" cy="676.36" r="1.0"/><circle cx="268.68" cy="672.36" r="1.0"/><circle cx="269.14" cy="666.70" r="1.0"/><circle cx="269.60" cy="659.04" r="1.0"/><circle cx="270.06" cy="649.10" r="1.0"/><circle cx="270.53" cy="636.74" r="1.0"/><circle cx="270.99" cy="622.08" r="1.0"/><circle cx="271.45" cy="605.53" r="1.0"/><circle cx="271.91" cy="587.84" r="1.0"/><circle cx="272.37" cy="570.07" r="1.0"/><circle cx="272.83" cy="553.50" r="1.0"/><circle cx="273.29" cy="539.51" r="1.0"/><circle cx="273.76" cy="529.34" r="1.0"/><circle cx="274.22" cy="523.99" r="1.0"/><circle cx="274.68" cy="523.98" r="1.0"/><circle cx="275.14" cy="529.32" r="1.0"/><circle cx="275.60" cy="539.46" r="1.0"/><circle cx="276.06" cy="553.43" r="1.0"/><circle cx="276.52" cy="569.98" r="1.0"/><circle cx="276.99" cy="587.74" r="1.0"/><circle cx="277.45" cy="605.41" r="1.0"/><circle cx="277.91" cy="621.94" r="1.0"/><circle cx="278.37" cy="636.58" r="1.0"/><circle cx="278.83" cy="648.92" r="1.0"/><circle cx="279.29" cy="658.84" r="1.0"/><circle cx="279.76" cy="666.48" r="1.0"/><circle cx="280.22" cy="672.11" r="1.0"/><circle cx="280.68" cy="676.10" r="1.0"/><circle cx="281.14" cy="678.82" r="1.0"/><circle cx="281.60" cy="680.59" r="1.0"/><circle cx="282.06" cy="681.70" r="1.0"/><circle cx="282.52" cy="682.37" r="1.0"/><circle cx="282.99" cy="682.76" r="1.0"/><circle cx="283.45" cy="682.97" r="1.0"/><circle cx="283.91" cy="683.09" r="1.0"/><circle cx="284.37" cy="683.14" r="1.0"/><circle cx="284.83" cy="683.22" r="1.0"/><circle cx="285.29" cy="683.30" r="1.0"/><circle cx="285.75" cy="683.36" r="1.0"/><circle cx="286.22" cy="683.42" r="1.0"/><circle cx="286.68" cy="683.48" r="1.0"/><circle cx="287.14" cy="683.53" r="1.0"/><circle cx="287.60" cy="683.59" r="1.0"/><circle cx="288.06" cy="683.64" r="1.0"/><circle cx="288.52" cy="683.70" r="1.0"/><circle cx="288.99" cy="683.76" r="1.0"/><circle cx="289.45" cy="683.81" r="1.0"/><circle cx="289.91" cy="683.87" r="1.0"/><circle cx="290.37" cy="683.92" r="1.0"/><circle cx="290.83" cy="683.98" r="1.0"/><circle cx="291.29" cy="684.02" r="1.0"/><circle cx="291.75" cy="684.05" r="1.0"/><circle cx="292.22" cy="684.07" r="1.0"/><circle cx="292.68" cy="684.10" r="1.0"/><circle cx="293.14" cy="684.13" r="1.0"/><circle cx="293.60" cy="684.16" r="1.0"/><circle cx="294.06" cy="684.18" r="1.0"/><circle cx="294.52" cy="684.21" r="1.0"/><circle cx="294.98" cy="684.24" r="1.0"/><circle cx="295.45" cy="684.27" r="1.0"/><circle cx="295.91" cy="684.29" r="1.0"/><circle cx="296.37" cy="684.32" r="1.0"/><circle cx="296.83" cy="684.35" r="1.0"/><circle cx="297.29" cy="684.38" r="1.0"/><circle cx="297.75" cy="684.40" r="1.0"/><circle cx="298.22" cy="684.40" r="1.0"/><circle cx="298.68" cy="684.40" r="1.0"/><circle cx="299.14" cy="684.41" r="1.0"/><circle cx="299.60" cy="684.41" r="1.0"/><circle cx="300.06" cy="684.41" r="1.0"/><circle cx="300.52" cy="684.41" r="1.0"/><circle cx="300.98" cy="684.41" r="1.0"/><circle cx="301.45" cy="684.42" r="1.0"/><circle cx="301.91" cy="684.42" r="1.0"/><circle cx="302.37" cy="684.42" r="1.0"/><circle cx="302.83" cy="684.42" r="1.0"/><circle cx="303.29" cy="684.43" r="1.0"/><circle cx="303.75" cy="684.43" r="1.0"/><circle cx="304.21" cy="684.43" r="1.0"/><circle cx="304.68" cy="684.43" r="1.0"/><circle cx="305.14" cy="684.43" r="1.0"/><circle cx="305.60" cy="684.44" r="1.0"/><circle cx="306.06" cy="684.44" r="1.0"/><circle cx="306.52" cy="684.44" r="1.0"/><circle cx="306.98" cy="684.44" r="1.0"/><circle cx="307.45" cy="684.44" r="1.0"/><circle cx="307.91" cy="684.45" r="1.0"/><circle cx="308.37" cy="684.45" r="1.0"/><circle cx="308.83" cy="684.45" r="1.0"/><circle cx="309.29" cy="684.45" r="1.0"/><circle cx="309.75" cy="684.45" r="1.0"/><circle cx="310.21" cy="684.46" r="1.0"/><circle cx="310.68" cy="684.46" r="1.0"/><circle cx="311.14" cy="684.46" r="1.0"/><circle cx="311.60" cy="684.46" r="1.0"/><circle cx="312.06" cy="684.46" r="1.0"/><circle cx="312.52" cy="684.47" r="1.0"/><circle cx="312.98" cy="684.47" r="1.0"/><circle cx="313.44" cy="684.47" r="1.0"/><circle cx="313.91" cy="684.47" r="1.0"/><circle cx="314.37" cy="684.47" r="1.0"/><circle cx="314.83" cy="684.48" r="1.0"/><circle cx="315.29" cy="684.48" r="1.0"/><circle cx="315.75" cy="684.48" r="1.0"/><circle cx="316.21" cy="684.48" r="1.0"/><circle cx="316.68" cy="684.49" r="1.0"/><circle cx="317.14" cy="684.49" r="1.0"/><circle cx="317.60" cy="684.49" r="1.0"/><circle cx="318.06" cy="684.49" r="1.0"/><circle cx="318.52" cy="684.49" r="1.0"/><circle cx="318.98" cy="684.50" r="1.0"/><circle cx="319.44" cy="684.50" r="1.0"/><circle cx="319.91" cy="684.50" r="1.0"/><circle cx="320.37" cy="684.50" r="1.0"/><circle cx="320.83" cy="684.50" r="1.0"/><circle cx="321.29" cy="684.50" r="1.0"/><circle cx="321.75" cy="684.50" r="1.0"/><circle cx="322.21" cy="684.50" r="1.0"/><circle cx="322.67" cy="684.50" r="1.0"/><circle cx="323.14" cy="684.51" r="1.0"/><circle cx="323.60" cy="684.51" r="1.0"/><circle cx="324.06" cy="684.51" r="1.0"/><circle cx="324.52" cy="684.51" r="1.0"/><circle cx="324.98" cy="684.51" r="1.0"/><circle cx="325.44" cy="684.51" r="1.0"/><circle cx="325.91" cy="684.51" r="1.0"/><circle cx="326.37" cy="684.51" r="1.0"/><circle cx="326.83" cy="684.51" r="1.0"/><circle cx="327.29" cy="684.51" r="1.0"/><circle cx="327.75" cy="684.51" r="1.0"/><circle cx="328.21" cy="684.51" r="1.0"/><circle cx="328.67" cy="684.51" r="1.0"/><circle cx="329.14" cy="684.52" r="1.0"/><circle cx="329.60" cy="684.52" r="1.0"/><circle cx="330.06" cy="684.52" r="1.0"/><circle cx="330.52" cy="684.52" r="1.0"/><circle cx="330.98" cy="684.52" r="1.0"/><circle cx="331.44" cy="684.52" r="1.0"/><circle cx="331.90" cy="684.52" r="1.0"/><circle cx="332.37" cy="684.52" r="1.0"/><circle cx="332.83" cy="684.52" r="1.0"/><circle cx="333.29" cy="684.52" r="1.0"/><circle cx="333.75" cy="684.52" r="1.0"/><circle cx="334.21" cy="684.52" r="1.0"/><circle cx="334.67" cy="684.52" r="1.0"/><circle cx="335.14" cy="684.53" r="1.0"/><circle cx="335.60" cy="684.53" r="1.0"/><circle cx="336.06" cy="684.53" r="1.0"/><circle cx="336.52" cy="684.53" r="1.0"/><circle cx="336.98" cy="684.53" r="1.0"/><circle cx="337.44" cy="684.53" r="1.0"/><circle cx="337.90" cy="684.53" r="1.0"/><circle cx="338.37" cy="684.53" r="1.0"/><circle cx="338.83" cy="684.53" r="1.0"/><circle cx="339.29" cy="684.53" r="1.0"/><circle cx="339.75" cy="684.53" r="1.0"/><circle cx="340.21" cy="684.53" r="1.0"/><circle cx="340.67" cy="684.53" r="1.0"/><circle cx="341.13" cy="684.54" r="1.0"/><circle cx="341.60" cy="684.54" r="1.0"/><circle cx="342.06" cy="684.54" r="1.0"/><circle cx="342.52" cy="684.54" r="1.0"/><circle cx="342.98" cy="684.54" r="1.0"/><circle cx="343.44" cy="684.54" r="1.0"/><circle cx="343.90" cy="684.54" r="1.0"/><circle cx="344.37" cy="684.54" r="1.0"/><circle cx="344.83" cy="684.54" r="1.0"/><circle cx="345.29" cy="684.54" r="1.0"/><circle cx="345.75" cy="684.54" r="1.0"/><circle cx="346.21" cy="684.54" r="1.0"/><circle cx="346.67" cy="684.54" r="1.0"/><circle cx="347.13" cy="684.55" r="1.0"/><circle cx="347.60" cy="684.55" r="1.0"/><circle cx="348.06" cy="684.55" r="1.0"/><circle cx="348.52" cy="684.55" r="1.0"/><circle cx="348.98" cy="684.55" r="1.0"/><circle cx="349.44" cy="684.55" r="1.0"/><circle cx="349.90" cy="684.55" r="1.0"/><circle cx="350.36" cy="684.55" r="1.0"/><circle cx="350.83" cy="684.55" r="1.0"/><circle cx="351.29" cy="684.55" r="1.0"/><circle cx="351.75" cy="684.55" r="1.0"/><circle cx="352.21" cy="684.55" r="1.0"/><circle cx="352.67" cy="684.55" r="1.0"/><circle cx="353.13" cy="684.56" r="1.0"/><circle cx="353.60" cy="684.56" r="1.0"/><circle cx="354.06" cy="684.56" r="1.0"/><circle cx="354.52" cy="684.56" r="1.0"/><circle cx="354.98" cy="684.56" r="1.0"/><circle cx="355.44" cy="684.56" r="1.0"/><circle cx="355.90" cy="684.56" r="1.0"/><circle cx="356.36" cy="684.56" r="1.0"/><circle cx="356.83" cy="684.56" r="1.0"/><circle cx="357.29" cy="684.56" r="1.0"/><circle cx="357.75" cy="684.56" r="1.0"/><circle cx="358.21" cy="684.56" r="1.0"/><circle cx="358.67" cy="684.56" r="1.0"/><circle cx="359.13" cy="684.57" r="1.0"/><circle cx="359.59" cy="684.57" r="1.0"/><circle cx="360.06" cy="684.57" r="1.0"/><circle cx="360.52" cy="684.57" r="1.0"/><circle cx="360.98" cy="684.57" r="1.0"/><circle cx="361.44" cy="684.57" r="1.0"/><circle cx="361.90" cy="684.57" r="1.0"/><circle cx="362.36" cy="684.57" r="1.0"/><circle cx="362.83" cy="684.57" r="1.0"/><circle cx="363.29" cy="684.57" r="1.0"/><circle cx="363.75" cy="684.57" r="1.0"/><circle cx="364.21" cy="684.57" r="1.0"/><circle cx="364.67" cy="684.57" r="1.0"/><circle cx="365.13" cy="684.58" r="1.0"/><circle cx="365.59" cy="684.58" r="1.0"/><circle cx="366.06" cy="684.58" r="1.0"/><circle cx="366.52" cy="684.58" r="1.0"/><circle cx="366.98" cy="684.58" r="1.0"/><circle cx="367.44" cy="684.58" r="1.0"/><circle cx="367.90" cy="684.58" r="1.0"/><circle cx="368.36" cy="684.58" r="1.0"/><circle cx="368.82" cy="684.58" r="1.0"/><circle cx="369.29" cy="684.58" r="1.0"/><circle cx="369.75" cy="684.58" r="1.0"/><circle cx="370.21" cy="684.58" r="1.0"/><circle cx="370.67" cy="684.58" r="1.0"/><circle cx="371.13" cy="684.59" r="1.0"/><circle cx="371.59" cy="684.59" r="1.0"/><circle cx="372.06" cy="684.59" r="1.0"/><circle cx="372.52" cy="684.59" r="1.0"/><circle cx="372.98" cy="684.59" r="1.0"/><circle cx="373.44" cy="684.59" r="1.0"/><circle cx="373.90" cy="684.59" r="1.0"/><circle cx="374.36" cy="684.59" r="1.0"/><circle cx="374.82" cy="684.59" r="1.0"/><circle cx="375.29" cy="684.59" r="1.0"/><circle cx="375.75" cy="684.59" r="1.0"/><circle cx="376.21" cy="684.59" r="1.0"/><circle cx="376.67" cy="684.59" r="1.0"/><circle cx="377.13" cy="684.60" r="1.0"/><circle cx="377.59" cy="684.60" r="1.0"/><circle cx="378.05" cy="684.60" r="1.0"/><circle cx="378.52" cy="684.60" r="1.0"/><circle cx="378.98" cy="684.60" r="1.0"/><circle cx="379.44" cy="684.60" r="1.0"/><circle cx="379.90" cy="684.60" r="1.0"/><circle cx="380.36" cy="684.59" r="1.0"/><circle cx="380.82" cy="684.59" r="1.0"/><circle cx="381.29" cy="684.58" r="1.0"/><circle cx="381.75" cy="684.57" r="1.0"/><circle cx="382.21" cy="684.56" r="1.0"/><circle cx="382.67" cy="684.56" r="1.0"/><circle cx="383.13" cy="684.55" r="1.0"/><circle cx="383.59" cy="684.54" r="1.0"/><circle cx="384.05" cy="684.53" r="1.0"/><circle cx="384.52" cy="684.53" r="1.0"/><circle cx="384.98" cy="684.52" r="1.0"/><circle cx="385.44" cy="684.51" r="1.0"/><circle cx="385.90" cy="684.50" r="1.0"/><circle cx="386.36" cy="684.50" r="1.0"/><circle cx="386.82" cy="684.49" r="1.0"/><circle cx="387.28" cy="684.48" r="1.0"/><circle cx="387.75" cy="684.47" r="1.0"/><circle cx="388.21" cy="684.47" r="1.0"/><circle cx="388.67" cy="684.46" r="1.0"/><circle cx="389.13" cy="684.45" r="1.0"/><circle cx="389.59" cy="684.44" r="1.0"/><circle cx="390.05" cy="684.44" r="1.0"/><circle cx="390.52" cy="684.43" r="1.0"/><circle cx="390.98" cy="684.42" r="1.0"/><circle cx="391.44" cy="684.41" r="1.0"/><circle cx="391.90" cy="684.41" r="1.0"/><circle cx="392.36" cy="684.40" r="1.0"/><circle cx="392.82" cy="684.39" r="1.0"/><circle cx="393.28" cy="684.38" r="1.0"/><circle cx="393.75" cy="684.38" r="1.0"/><circle cx="394.21" cy="684.37" r="1.0"/><circle cx="394.67" cy="684.36" r="1.0"/><circle cx="395.13" cy="684.35" r="1.0"/><circle cx="395.59" cy="684.35" r="1.0"/><circle cx="396.05" cy="684.34" r="1.0"/><circle cx="396.51" cy="684.33" r="1.0"/><circle cx="396.98" cy="684.32" r="1.0"/><circle cx="397.44" cy="684.32" r="1.0"/><circle cx="397.90" cy="684.31" r="1.0"/><circle cx="398.36" cy="684.30" r="1.0"/><circle cx="398.82" cy="684.29" r="1.0"/><circle cx="399.28" cy="684.29" r="1.0"/><circle cx="399.75" cy="684.28" r="1.0"/><circle cx="400.21" cy="684.27" r="1.0"/><circle cx="400.67" cy="684.26" r="1.0"/><circle cx="401.13" cy="684.26" r="1.0"/><circle cx="401.59" cy="684.25" r="1.0"/><circle cx="402.05" cy="684.24" r="1.0"/><circle cx="402.51" cy="684.23" r="1.0"/><circle cx="402.98" cy="684.22" r="1.0"/><circle cx="403.44" cy="684.22" r="1.0"/><circle cx="403.90" cy="684.21" r="1.0"/><circle cx="404.36" cy="684.20" r="1.0"/><circle cx="404.82" cy="684.20" r="1.0"/><circle cx="405.28" cy="684.21" r="1.0"/><circle cx="405.74" cy="684.21" r="1.0"/><circle cx="406.21" cy="684.22" r="1.0"/><circle cx="406.67" cy="684.23" r="1.0"/><circle cx="407.13" cy="684.23" r="1.0"/><circle cx="407.59" cy="684.24" r="1.0"/><circle cx="408.05" cy="684.24" r="1.0"/><circle cx="408.51" cy="684.25" r="1.0"/><circle cx="408.98" cy="684.25" r="1.0"/><circle cx="409.44" cy="684.26" r="1.0"/><circle cx="409.90" cy="684.26" r="1.0"/><circle cx="410.36" cy="684.27" r="1.0"/><circle cx="410.82" cy="684.27" r="1.0"/><circle cx="411.28" cy="684.28" r="1.0"/><circle cx="411.74" cy="684.29" r="1.0"/><circle cx="412.21" cy="684.29" r="1.0"/><circle cx="412.67" cy="684.30" r="1.0"/><circle cx="413.13" cy="684.30" r="1.0"/><circle cx="413.59" cy="684.31" r="1.0"/><circle cx="414.05" cy="684.31" r="1.0"/><circle cx="414.51" cy="684.32" r="1.0"/><circle cx="414.97" cy="684.32" r="1.0"/><circle cx="415.44" cy="684.33" r="1.0"/><circle cx="415.90" cy="684.33" r="1.0"/><circle cx="416.36" cy="684.34" r="1.0"/><circle cx="416.82" cy="684.34" r="1.0"/><circle cx="417.28" cy="684.35" r="1.0"/><circle cx="417.74" cy="684.36" r="1.0"/><circle cx="418.21" cy="684.36" r="1.0"/><circle cx="418.67" cy="684.37" r="1.0"/><circle cx="419.13" cy="684.37" r="1.0"/><circle cx="419.59" cy="684.38" r="1.0"/><circle cx="420.05" cy="684.38" r="1.0"/><circle cx="420.51" cy="684.39" r="1.0"/><circle cx="420.97" cy="684.39" r="1.0"/><circle cx="421.44" cy="684.40" r="1.0"/><circle cx="421.90" cy="684.40" r="1.0"/><circle cx="422.36" cy="684.41" r="1.0"/><circle cx="422.82" cy="684.42" r="1.0"/><circle cx="423.28" cy="684.42" r="1.0"/><circle cx="423.74" cy="684.43" r="1.0"/><circle cx="424.20" cy="684.43" r="1.0"/><circle cx="424.67" cy="684.44" r="1.0"/><circle cx="425.13" cy="684.44" r="1.0"/><circle cx="425.59" cy="684.45" r="1.0"/><circle cx="426.05" cy="684.45" r="1.0"/><circle cx="426.51" cy="684.46" r="1.0"/><circle cx="426.97" cy="684.46" r="1.0"/><circle cx="427.44" cy="684.47" r="1.0"/><circle cx="427.90" cy="684.48" r="1.0"/><circle cx="428.36" cy="684.48" r="1.0"/><circle cx="428.82" cy="684.49" r="1.0"/><circle cx="429.28" cy="684.49" r="1.0"/><circle cx="429.74" cy="684.50" r="1.0"/><circle cx="430.20" cy="684.50" r="1.0"/><circle cx="430.67" cy="684.49" r="1.0"/><circle cx="431.13" cy="684.49" r="1.0"/><circle cx="431.59" cy="684.48" r="1.0"/><circle cx="432.05" cy="684.47" r="1.0"/><circle cx="432.51" cy="684.47" r="1.0"/><circle cx="432.97" cy="684.46" r="1.0"/><circle cx="433.43" cy="684.46" r="1.0"/><circle cx="433.90" cy="684.45" r="1.0"/><circle cx="434.36" cy="684.44" r="1.0"/><circle cx="434.82" cy="684.43" r="1.0"/><circle cx="435.28" cy="684.42" r="1.0"/><circle cx="435.74" cy="684.41" r="1.0"/><circle cx="436.20" cy="684.39" r="1.0"/><circle cx="436.67" cy="684.37" r="1.0"/><circle cx="437.13" cy="684.33" r="1.0"/><circle cx="437.59" cy="684.29" r="1.0"/><circle cx="438.05" cy="684.24" r="1.0"/><circle cx="438.51" cy="684.18" r="1.0"/><circle cx="438.97" cy="684.09" r="1.0"/><circle cx="439.43" cy="683.99" r="1.0"/><circle cx="439.90" cy="683.85" r="1.0"/><circle cx="440.36" cy="683.69" r="1.0"/><circle cx="440.82" cy="683.51" r="1.0"/><circle cx="441.28" cy="683.29" r="1.0"/><circle cx="441.74" cy="683.06" r="1.0"/><circle cx="442.20" cy="682.81" r="1.0"/><circle cx="442.66" cy="682.54" r="1.0"/><circle cx="443.13" cy="682.28" r="1.0"/><circle cx="443.59" cy="682.04" r="1.0"/><circle cx="444.05" cy="681.82" r="1.0"/><circle cx="444.51" cy="681.63" r="1.0"/><circle cx="444.97" cy="681.50" r="1.0"/><circle cx="445.43" cy="681.42" r="1.0"/><circle cx="445.90" cy="681.40" r="1.0"/><circle cx="446.36" cy="681.45" r="1.0"/><circle cx="446.82" cy="681.55" r="1.0"/><circle cx="447.28" cy="681.70" r="1.0"/><circle cx="447.74" cy="681.90" r="1.0"/><circle cx="448.20" cy="682.14" r="1.0"/><circle cx="448.66" cy="682.39" r="1.0"/><circle cx="449.13" cy="682.65" r="1.0"/><circle cx="449.59" cy="682.91" r="1.0"/><circle cx="450.05" cy="683.16" r="1.0"/><circle cx="450.51" cy="683.38" r="1.0"/><circle cx="450.97" cy="683.59" r="1.0"/><circle cx="451.43" cy="683.76" r="1.0"/><circle cx="451.89" cy="683.91" r="1.0"/><circle cx="452.36" cy="684.03" r="1.0"/><circle cx="452.82" cy="684.13" r="1.0"/><circle cx="453.28" cy="684.20" r="1.0"/><circle cx="453.74" cy="684.26" r="1.0"/><circle cx="454.20" cy="684.30" r="1.0"/><circle cx="454.66" cy="684.34" r="1.0"/><circle cx="455.13" cy="684.36" r="1.0"/><circle cx="455.59" cy="684.37" r="1.0"/><circle cx="456.05" cy="684.38" r="1.0"/><circle cx="456.51" cy="684.39" r="1.0"/><circle cx="456.97" cy="684.39" r="1.0"/><circle cx="457.43" cy="684.40" r="1.0"/><circle cx="457.89" cy="684.40" r="1.0"/><circle cx="458.36" cy="684.40" r="1.0"/><circle cx="458.82" cy="684.40" r="1.0"/><circle cx="459.28" cy="684.40" r="1.0"/><circle cx="459.74" cy="684.40" r="1.0"/><circle cx="460.20" cy="684.40" r="1.0"/><circle cx="460.66" cy="684.40" r="1.0"/><circle cx="461.12" cy="684.40" r="1.0"/><circle cx="461.59" cy="684.40" r="1.0"/><circle cx="462.05" cy="684.40" r="1.0"/><circle cx="462.51" cy="684.40" r="1.0"/><circle cx="462.97" cy="684.40" r="1.0"/><circle cx="463.43" cy="684.40" r="1.0"/><circle cx="463.89" cy="684.40" r="1.0"/><circle cx="464.36" cy="684.40" r="1.0"/><circle cx="464.82" cy="684.40" r="1.0"/><circle cx="465.28" cy="684.40" r="1.0"/><circle cx="465.74" cy="684.40" r="1.0"/><circle cx="466.20" cy="684.40" r="1.0"/><circle cx="466.66" cy="684.40" r="1.0"/><circle cx="467.12" cy="684.40" r="1.0"/><circle cx="467.59" cy="684.40" r="1.0"/><circle cx="468.05" cy="684.40" r="1.0"/><circle cx="468.51" cy="684.40" r="1.0"/><circle cx="468.97" cy="684.40" r="1.0"/></g>
<circle cx="346.6" cy="571.8" r="0.9" fill="#2f6db5"/>
<text x="367.6" y="577.9" font-family='"Liberation Sans", Arial, sans-serif' fill="#1a1a1a" stroke="#1a1a1a" stroke-width="0.2" font-size="16.6">STL-based</text>
<line x1="338" y1="596.5" x2="357.2" y2="596.5" stroke="#cf5a48" stroke-width="1.2"/>
<text x="368.4" y="602.4" font-family='"Liberation Sans", Arial, sans-serif' fill="#1a1a1a" stroke="#1a1a1a" stroke-width="0.2" font-size="16.6">Primitive</text>
</svg>
</body></html>
